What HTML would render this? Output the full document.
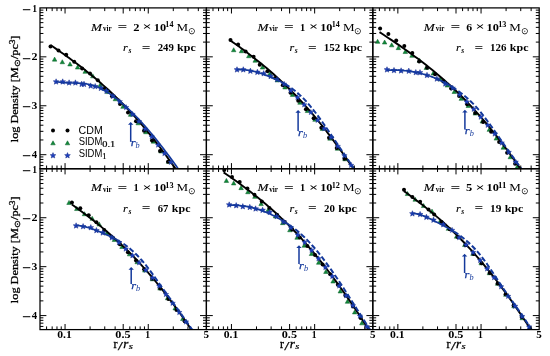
<!DOCTYPE html>
<html><head><meta charset="utf-8"><style>
html,body{margin:0;padding:0;background:#fff;}
svg{display:block;}
text{font-family:"Liberation Serif",serif;}
.b{font-size:10px;font-weight:bold;}
.bi{font-size:10px;font-style:italic;font-weight:bold;}
.sb{font-size:8px;font-weight:bold;}
.sn{font-size:8px;}
.so{font-size:9px;}
.n{font-size:10px;}
.mi{font-size:10px;font-style:italic;stroke:#000;stroke-width:0.12px;}
.tm{font-size:10px;font-weight:bold;fill:#222;stroke:#222;stroke-width:0.35px;}
.sbi{font-size:8px;font-weight:bold;font-style:italic;}
.tl{font-size:10px;font-weight:bold;}
.xr{font-size:12px;stroke:#000;stroke-width:0.3px;}
.xsl{font-size:13.5px;stroke:#000;stroke-width:0.25px;}
.xi{font-size:12px;font-style:italic;stroke:#000;stroke-width:0.3px;}
.xs{font-size:8.5px;font-style:italic;stroke:#000;stroke-width:0.2px;}
.yl{font-size:10.4px;stroke:#000;stroke-width:0.3px;}
.ys{font-size:7.5px;}
.lg{font-family:"Liberation Sans",sans-serif;font-size:10.2px;}
.lgs{font-family:"Liberation Serif",serif;font-size:7.5px;stroke:#000;stroke-width:0.2px;}
.rb{font-size:10px;font-style:italic;fill:#14399c;stroke:#14399c;stroke-width:0.25px;}
.rbs{font-size:8px;font-style:italic;fill:#14399c;}
</style></head><body>
<svg width="550" height="356" viewBox="0 0 550 356">
<rect width="550" height="356" fill="#fff"/>
<clipPath id="cp0"><rect x="40" y="7.9" width="166.4" height="160.8"/></clipPath>
<g clip-path="url(#cp0)">
<polygon points="54.6,57.09 56.85,61.14 52.35,61.14" fill="#108a3a" stroke="#0c5e2a" stroke-width="0.5"/>
<polygon points="62.3,59.69 64.55,63.74 60.05,63.74" fill="#108a3a" stroke="#0c5e2a" stroke-width="0.5"/>
<polygon points="70,61.89 72.25,65.94 67.75,65.94" fill="#108a3a" stroke="#0c5e2a" stroke-width="0.5"/>
<polygon points="77.6,64.99 79.85,69.04 75.35,69.04" fill="#108a3a" stroke="#0c5e2a" stroke-width="0.5"/>
<polygon points="85.2,69.29 87.45,73.34 82.95,73.34" fill="#108a3a" stroke="#0c5e2a" stroke-width="0.5"/>
<polygon points="92.8,73.79 95.05,77.84 90.55,77.84" fill="#108a3a" stroke="#0c5e2a" stroke-width="0.5"/>
<polygon points="100.2,82.77 102.45,86.82 97.95,86.82" fill="#108a3a" stroke="#0c5e2a" stroke-width="0.5"/>
<polygon points="107.8,89.54 110.05,93.59 105.55,93.59" fill="#108a3a" stroke="#0c5e2a" stroke-width="0.5"/>
<polygon points="115.4,96.7 117.65,100.75 113.15,100.75" fill="#108a3a" stroke="#0c5e2a" stroke-width="0.5"/>
<polygon points="123,104.27 125.25,108.32 120.75,108.32" fill="#108a3a" stroke="#0c5e2a" stroke-width="0.5"/>
<polygon points="130.6,112.28 132.85,116.33 128.35,116.33" fill="#108a3a" stroke="#0c5e2a" stroke-width="0.5"/>
<polygon points="138.2,120.75 140.45,124.8 135.95,124.8" fill="#108a3a" stroke="#0c5e2a" stroke-width="0.5"/>
<polygon points="145.8,129.69 148.05,133.74 143.55,133.74" fill="#108a3a" stroke="#0c5e2a" stroke-width="0.5"/>
<polygon points="153.4,139.09 155.65,143.14 151.15,143.14" fill="#108a3a" stroke="#0c5e2a" stroke-width="0.5"/>
<polygon points="161,148.95 163.25,153 158.75,153" fill="#108a3a" stroke="#0c5e2a" stroke-width="0.5"/>
<polygon points="168.6,159.25 170.85,163.3 166.35,163.3" fill="#108a3a" stroke="#0c5e2a" stroke-width="0.5"/>
<circle cx="50.5" cy="46.6" r="2.0" fill="#000"/>
<circle cx="58.5" cy="50.5" r="2.0" fill="#000"/>
<circle cx="66.2" cy="54.7" r="2.0" fill="#000"/>
<circle cx="74.2" cy="61.8" r="2.0" fill="#000"/>
<circle cx="82.1" cy="68.5" r="2.0" fill="#000"/>
<circle cx="90" cy="73.4" r="2.0" fill="#000"/>
<circle cx="97.8" cy="80.2" r="2.0" fill="#000"/>
<circle cx="104" cy="88.75" r="2.0" fill="#000"/>
<circle cx="112" cy="96.18" r="2.0" fill="#000"/>
<circle cx="120" cy="104.06" r="2.0" fill="#000"/>
<circle cx="128" cy="112.42" r="2.0" fill="#000"/>
<circle cx="136" cy="121.28" r="2.0" fill="#000"/>
<circle cx="144" cy="130.66" r="2.0" fill="#000"/>
<circle cx="152" cy="140.56" r="2.0" fill="#000"/>
<circle cx="160" cy="150.96" r="2.0" fill="#000"/>
<circle cx="168" cy="161.85" r="2.0" fill="#000"/>
<path d="M50.5 45.05 L53.11 46.81 L55.73 48.6 L58.34 50.4 L60.95 52.22 L63.57 54.06 L66.18 55.92 L68.8 57.81 L71.41 59.71 L74.02 61.64 L76.64 63.59 L79.25 65.57 L81.86 67.58 L84.48 69.62 L87.09 71.69 L89.7 73.79 L92.32 75.93 L94.93 78.1 L97.55 80.31 L100.16 82.56 L102.77 84.85 L105.39 87.18 L108 89.55 L110.61 91.97 L113.23 94.43 L115.84 96.95 L118.45 99.51 L121.07 102.12 L123.68 104.78 L126.3 107.49 L128.91 110.26 L131.52 113.08 L134.14 115.96 L136.75 118.88 L139.36 121.87 L141.98 124.91 L144.59 128.01 L147.2 131.16 L149.82 134.36 L152.43 137.63 L155.05 140.94 L157.66 144.31 L160.27 147.74 L162.89 151.21 L165.5 154.74 L168.11 158.32 L170.73 161.94 L173.34 165.62 L175.95 169.34 L178.57 173.1" stroke="#000" stroke-width="1.9" fill="none"/>
<polygon points="56.1,78.8 56.89,80.71 58.95,80.87 57.38,82.22 57.86,84.23 56.1,83.15 54.34,84.23 54.82,82.22 53.25,80.87 55.31,80.71" fill="#1c3fc0" stroke="#1a2f86" stroke-width="0.5"/>
<polygon points="62.7,78.8 63.49,80.71 65.55,80.87 63.98,82.22 64.46,84.23 62.7,83.15 60.94,84.23 61.42,82.22 59.85,80.87 61.91,80.71" fill="#1c3fc0" stroke="#1a2f86" stroke-width="0.5"/>
<polygon points="69.1,79.8 69.89,81.71 71.95,81.87 70.38,83.22 70.86,85.23 69.1,84.15 67.34,85.23 67.82,83.22 66.25,81.87 68.31,81.71" fill="#1c3fc0" stroke="#1a2f86" stroke-width="0.5"/>
<polygon points="75.4,79.8 76.19,81.71 78.25,81.87 76.68,83.22 77.16,85.23 75.4,84.15 73.64,85.23 74.12,83.22 72.55,81.87 74.61,81.71" fill="#1c3fc0" stroke="#1a2f86" stroke-width="0.5"/>
<polygon points="81.7,81.2 82.49,83.11 84.55,83.27 82.98,84.62 83.46,86.63 81.7,85.55 79.94,86.63 80.42,84.62 78.85,83.27 80.91,83.11" fill="#1c3fc0" stroke="#1a2f86" stroke-width="0.5"/>
<polygon points="84,81.2 84.79,83.11 86.85,83.27 85.28,84.62 85.76,86.63 84,85.55 82.24,86.63 82.72,84.62 81.15,83.27 83.21,83.11" fill="#1c3fc0" stroke="#1a2f86" stroke-width="0.5"/>
<polygon points="90.7,82.9 91.49,84.81 93.55,84.97 91.98,86.32 92.46,88.33 90.7,87.25 88.94,88.33 89.42,86.32 87.85,84.97 89.91,84.81" fill="#1c3fc0" stroke="#1a2f86" stroke-width="0.5"/>
<polygon points="95.2,83.5 95.99,85.41 98.05,85.57 96.48,86.92 96.96,88.93 95.2,87.85 93.44,88.93 93.92,86.92 92.35,85.57 94.41,85.41" fill="#1c3fc0" stroke="#1a2f86" stroke-width="0.5"/>
<polygon points="100.9,85.2 101.69,87.11 103.75,87.27 102.18,88.62 102.66,90.63 100.9,89.55 99.14,90.63 99.62,88.62 98.05,87.27 100.11,87.11" fill="#1c3fc0" stroke="#1a2f86" stroke-width="0.5"/>
<polygon points="106.5,88 107.29,89.91 109.35,90.07 107.78,91.42 108.26,93.43 106.5,92.35 104.74,93.43 105.22,91.42 103.65,90.07 105.71,89.91" fill="#1c3fc0" stroke="#1a2f86" stroke-width="0.5"/>
<polygon points="112.9,93.19 113.69,95.1 115.75,95.26 114.18,96.61 114.66,98.62 112.9,97.54 111.14,98.62 111.62,96.61 110.05,95.26 112.11,95.1" fill="#1c3fc0" stroke="#1a2f86" stroke-width="0.5"/>
<polygon points="119.7,98.71 120.47,100.55 122.46,100.71 120.94,102.01 121.4,103.95 119.7,102.91 118,103.95 118.46,102.01 116.94,100.71 118.93,100.55" fill="#1c3fc0" stroke="#1a2f86" stroke-width="0.4"/>
<polygon points="126.1,104.57 126.87,106.41 128.86,106.57 127.34,107.87 127.8,109.82 126.1,108.78 124.4,109.82 124.86,107.87 123.34,106.57 125.33,106.41" fill="#1c3fc0" stroke="#1a2f86" stroke-width="0.4"/>
<polygon points="132.5,111.41 133.27,113.25 135.26,113.41 133.74,114.71 134.2,116.66 132.5,115.62 130.8,116.66 131.26,114.71 129.74,113.41 131.73,113.25" fill="#1c3fc0" stroke="#1a2f86" stroke-width="0.4"/>
<polygon points="138.9,118.58 139.67,120.42 141.66,120.58 140.14,121.88 140.6,123.82 138.9,122.78 137.2,123.82 137.66,121.88 136.14,120.58 138.13,120.42" fill="#1c3fc0" stroke="#1a2f86" stroke-width="0.4"/>
<polygon points="145.3,126.08 146.07,127.92 148.06,128.08 146.54,129.38 147,131.32 145.3,130.28 143.6,131.32 144.06,129.38 142.54,128.08 144.53,127.92" fill="#1c3fc0" stroke="#1a2f86" stroke-width="0.4"/>
<polygon points="151.7,133.91 152.47,135.75 154.46,135.91 152.94,137.21 153.4,139.15 151.7,138.11 150,139.15 150.46,137.21 148.94,135.91 150.93,135.75" fill="#1c3fc0" stroke="#1a2f86" stroke-width="0.4"/>
<polygon points="158.1,142.07 158.87,143.91 160.86,144.07 159.34,145.37 159.8,147.31 158.1,146.27 156.4,147.31 156.86,145.37 155.34,144.07 157.33,143.91" fill="#1c3fc0" stroke="#1a2f86" stroke-width="0.4"/>
<polygon points="164.5,150.54 165.27,152.39 167.26,152.55 165.74,153.85 166.2,155.79 164.5,154.75 162.8,155.79 163.26,153.85 161.74,152.55 163.73,152.39" fill="#1c3fc0" stroke="#1a2f86" stroke-width="0.4"/>
<polygon points="170.9,159.33 171.67,161.17 173.66,161.33 172.14,162.63 172.6,164.57 170.9,163.53 169.2,164.57 169.66,162.63 168.14,161.33 170.13,161.17" fill="#1c3fc0" stroke="#1a2f86" stroke-width="0.4"/>
<polygon points="177.3,168.39 178.07,170.24 180.06,170.4 178.54,171.7 179,173.64 177.3,172.6 175.6,173.64 176.06,171.7 174.54,170.4 176.53,170.24" fill="#1c3fc0" stroke="#1a2f86" stroke-width="0.4"/>
<path d="M56.1 81.58 L57.92 81.92 L59.74 82.2 L61.56 82.42 L63.37 82.59 L65.19 82.72 L67.01 82.81 L68.83 82.88 L70.65 82.94 L72.47 82.98 L74.28 83.03 L76.1 83.08 L77.92 83.15 L79.74 83.24 L81.56 83.37 L83.38 83.54 L85.19 83.75 L87.01 84.03 L88.83 84.37 L90.65 84.78 L92.47 85.28 L94.29 85.86 L96.1 86.51 L97.92 87.25 L99.74 88.06 L101.56 88.94 L103.38 89.89 L105.2 90.91 L107.01 91.99 L108.83 93.14 L110.65 94.35 L112.47 95.62 L114.29 96.95 L116.11 98.33 L117.92 99.76 L119.74 101.25 L121.56 102.78 L123.38 104.36 L125.2 105.99 L127.02 107.65 L128.84 109.35 L130.65 111.1 L132.47 112.88 L134.29 114.7 L136.11 116.56 L137.93 118.45 L139.75 120.38 L141.56 122.35 L143.38 124.36 L145.2 126.4 L147.02 128.48 L148.84 130.59 L150.66 132.73 L152.47 134.91 L154.29 137.12 L156.11 139.36 L157.93 141.63 L159.75 143.94 L161.57 146.27 L163.38 148.63 L165.2 151.02 L167.02 153.43 L168.84 155.87 L170.66 158.34 L172.48 160.83 L174.29 163.34 L176.11 165.87 L177.93 168.43 L179.75 171 L181.57 173.6" stroke="#14399c" stroke-width="1.7" fill="none"/>
</g>
<path d="M130.7 141.8V124" stroke="#14399c" stroke-width="1.5" fill="none"/>
<polygon points="130.7,122 133.4,124.8 128,124.8" fill="#14399c"/>
<text x="130.69" y="146.4" class="rb" fill="#14399c" textLength="4.84" lengthAdjust="spacingAndGlyphs">r</text>
<text x="135.64" y="148.4" class="rbs" fill="#14399c" textLength="4.11" lengthAdjust="spacingAndGlyphs">b</text>
<clipPath id="cp1"><rect x="206.4" y="7.9" width="166.4" height="160.8"/></clipPath>
<g clip-path="url(#cp1)">
<polygon points="233.7,47.69 235.95,51.74 231.45,51.74" fill="#108a3a" stroke="#0c5e2a" stroke-width="0.5"/>
<polygon points="241.5,48.69 243.75,52.74 239.25,52.74" fill="#108a3a" stroke="#0c5e2a" stroke-width="0.5"/>
<polygon points="248.8,53.69 251.05,57.74 246.55,57.74" fill="#108a3a" stroke="#0c5e2a" stroke-width="0.5"/>
<polygon points="255.2,58.19 257.45,62.24 252.95,62.24" fill="#108a3a" stroke="#0c5e2a" stroke-width="0.5"/>
<polygon points="262.5,65 264.75,69.05 260.25,69.05" fill="#108a3a" stroke="#0c5e2a" stroke-width="0.5"/>
<polygon points="270,71.2 272.25,75.25 267.75,75.25" fill="#108a3a" stroke="#0c5e2a" stroke-width="0.5"/>
<polygon points="277.5,77.85 279.75,81.9 275.25,81.9" fill="#108a3a" stroke="#0c5e2a" stroke-width="0.5"/>
<polygon points="285,84.89 287.25,88.94 282.75,88.94" fill="#108a3a" stroke="#0c5e2a" stroke-width="0.5"/>
<polygon points="292.5,92.33 294.75,96.38 290.25,96.38" fill="#108a3a" stroke="#0c5e2a" stroke-width="0.5"/>
<polygon points="300,100.19 302.25,104.24 297.75,104.24" fill="#108a3a" stroke="#0c5e2a" stroke-width="0.5"/>
<polygon points="307.5,108.49 309.75,112.54 305.25,112.54" fill="#108a3a" stroke="#0c5e2a" stroke-width="0.5"/>
<polygon points="315,117.25 317.25,121.3 312.75,121.3" fill="#108a3a" stroke="#0c5e2a" stroke-width="0.5"/>
<polygon points="322.5,126.46 324.75,130.51 320.25,130.51" fill="#108a3a" stroke="#0c5e2a" stroke-width="0.5"/>
<polygon points="330,136.13 332.25,140.18 327.75,140.18" fill="#108a3a" stroke="#0c5e2a" stroke-width="0.5"/>
<polygon points="337.5,146.22 339.75,150.27 335.25,150.27" fill="#108a3a" stroke="#0c5e2a" stroke-width="0.5"/>
<polygon points="345,156.72 347.25,160.77 342.75,160.77" fill="#108a3a" stroke="#0c5e2a" stroke-width="0.5"/>
<polygon points="352.5,167.59 354.75,171.64 350.25,171.64" fill="#108a3a" stroke="#0c5e2a" stroke-width="0.5"/>
<circle cx="230.5" cy="40" r="2.0" fill="#000"/>
<circle cx="238.1" cy="44.6" r="2.0" fill="#000"/>
<circle cx="245.6" cy="51.5" r="2.0" fill="#000"/>
<circle cx="253.6" cy="56.8" r="2.0" fill="#000"/>
<circle cx="259.7" cy="64.7" r="2.0" fill="#000"/>
<circle cx="267.4" cy="71.16" r="2.0" fill="#000"/>
<circle cx="275.1" cy="77.95" r="2.0" fill="#000"/>
<circle cx="282.8" cy="85.13" r="2.0" fill="#000"/>
<circle cx="290.5" cy="92.73" r="2.0" fill="#000"/>
<circle cx="298.2" cy="100.77" r="2.0" fill="#000"/>
<circle cx="305.9" cy="109.27" r="2.0" fill="#000"/>
<circle cx="313.6" cy="118.26" r="2.0" fill="#000"/>
<circle cx="321.3" cy="127.73" r="2.0" fill="#000"/>
<circle cx="329" cy="137.66" r="2.0" fill="#000"/>
<circle cx="336.7" cy="148.06" r="2.0" fill="#000"/>
<circle cx="344.4" cy="158.87" r="2.0" fill="#000"/>
<circle cx="352.1" cy="170.08" r="2.0" fill="#000"/>
<path d="M230.6 40.61 L233.17 42.42 L235.74 44.24 L238.31 46.08 L240.88 47.95 L243.45 49.84 L246.01 51.75 L248.58 53.69 L251.15 55.65 L253.72 57.65 L256.29 59.67 L258.86 61.72 L261.43 63.81 L264 65.93 L266.57 68.08 L269.14 70.28 L271.71 72.51 L274.28 74.77 L276.84 77.09 L279.41 79.44 L281.98 81.84 L284.55 84.28 L287.12 86.77 L289.69 89.3 L292.26 91.89 L294.83 94.52 L297.4 97.21 L299.97 99.94 L302.54 102.73 L305.1 105.58 L307.67 108.47 L310.24 111.42 L312.81 114.42 L315.38 117.48 L317.95 120.58 L320.52 123.75 L323.09 126.96 L325.66 130.23 L328.23 133.55 L330.8 136.92 L333.36 140.34 L335.93 143.82 L338.5 147.33 L341.07 150.9 L343.64 154.51 L346.21 158.17 L348.78 161.87 L351.35 165.62 L353.92 169.4 L356.49 173.23" stroke="#000" stroke-width="1.9" fill="none"/>
<polygon points="237,66.7 237.79,68.61 239.85,68.77 238.28,70.12 238.76,72.13 237,71.05 235.24,72.13 235.72,70.12 234.15,68.77 236.21,68.61" fill="#1c3fc0" stroke="#1a2f86" stroke-width="0.5"/>
<polygon points="243.3,66.7 244.09,68.61 246.15,68.77 244.58,70.12 245.06,72.13 243.3,71.05 241.54,72.13 242.02,70.12 240.45,68.77 242.51,68.61" fill="#1c3fc0" stroke="#1a2f86" stroke-width="0.5"/>
<polygon points="250.4,68.1 251.19,70.01 253.25,70.17 251.68,71.52 252.16,73.53 250.4,72.45 248.64,73.53 249.12,71.52 247.55,70.17 249.61,70.01" fill="#1c3fc0" stroke="#1a2f86" stroke-width="0.5"/>
<polygon points="257.4,69.2 258.19,71.11 260.25,71.27 258.68,72.62 259.16,74.63 257.4,73.55 255.64,74.63 256.12,72.62 254.55,71.27 256.61,71.11" fill="#1c3fc0" stroke="#1a2f86" stroke-width="0.5"/>
<polygon points="263.7,70.6 264.49,72.51 266.55,72.67 264.98,74.02 265.46,76.03 263.7,74.95 261.94,76.03 262.42,74.02 260.85,72.67 262.91,72.51" fill="#1c3fc0" stroke="#1a2f86" stroke-width="0.5"/>
<polygon points="270.7,73.4 271.49,75.31 273.55,75.47 271.98,76.82 272.46,78.83 270.7,77.75 268.94,78.83 269.42,76.82 267.85,75.47 269.91,75.31" fill="#1c3fc0" stroke="#1a2f86" stroke-width="0.5"/>
<polygon points="277,76.5 277.79,78.41 279.85,78.57 278.28,79.92 278.76,81.93 277,80.85 275.24,81.93 275.72,79.92 274.15,78.57 276.21,78.41" fill="#1c3fc0" stroke="#1a2f86" stroke-width="0.5"/>
<polygon points="284.1,81.16 284.87,83.01 286.86,83.17 285.34,84.47 285.8,86.41 284.1,85.37 282.4,86.41 282.86,84.47 281.34,83.17 283.33,83.01" fill="#1c3fc0" stroke="#1a2f86" stroke-width="0.4"/>
<polygon points="290.8,87.71 291.57,89.56 293.56,89.72 292.04,91.02 292.5,92.96 290.8,91.92 289.1,92.96 289.56,91.02 288.04,89.72 290.03,89.56" fill="#1c3fc0" stroke="#1a2f86" stroke-width="0.4"/>
<polygon points="297.5,94.59 298.27,96.44 300.26,96.6 298.74,97.9 299.2,99.84 297.5,98.8 295.8,99.84 296.26,97.9 294.74,96.6 296.73,96.44" fill="#1c3fc0" stroke="#1a2f86" stroke-width="0.4"/>
<polygon points="304.2,101.83 304.97,103.67 306.96,103.83 305.44,105.13 305.9,107.07 304.2,106.03 302.5,107.07 302.96,105.13 301.44,103.83 303.43,103.67" fill="#1c3fc0" stroke="#1a2f86" stroke-width="0.4"/>
<polygon points="310.9,109.42 311.67,111.26 313.66,111.42 312.14,112.72 312.6,114.66 310.9,113.62 309.2,114.66 309.66,112.72 308.14,111.42 310.13,111.26" fill="#1c3fc0" stroke="#1a2f86" stroke-width="0.4"/>
<polygon points="317.6,117.37 318.37,119.22 320.36,119.38 318.84,120.67 319.3,122.62 317.6,121.58 315.9,122.62 316.36,120.67 314.84,119.38 316.83,119.22" fill="#1c3fc0" stroke="#1a2f86" stroke-width="0.4"/>
<polygon points="324.3,125.69 325.07,127.53 327.06,127.69 325.54,128.99 326,130.94 324.3,129.89 322.6,130.94 323.06,128.99 321.54,127.69 323.53,127.53" fill="#1c3fc0" stroke="#1a2f86" stroke-width="0.4"/>
<polygon points="331,134.36 331.77,136.21 333.76,136.37 332.24,137.67 332.7,139.61 331,138.57 329.3,139.61 329.76,137.67 328.24,136.37 330.23,136.21" fill="#1c3fc0" stroke="#1a2f86" stroke-width="0.4"/>
<polygon points="337.7,143.38 338.47,145.23 340.46,145.38 338.94,146.68 339.4,148.63 337.7,147.59 336,148.63 336.46,146.68 334.94,145.38 336.93,145.23" fill="#1c3fc0" stroke="#1a2f86" stroke-width="0.4"/>
<polygon points="344.4,152.72 345.17,154.57 347.16,154.73 345.64,156.03 346.1,157.97 344.4,156.93 342.7,157.97 343.16,156.03 341.64,154.73 343.63,154.57" fill="#1c3fc0" stroke="#1a2f86" stroke-width="0.4"/>
<polygon points="351.1,162.37 351.87,164.21 353.86,164.37 352.34,165.67 352.8,167.61 351.1,166.57 349.4,167.61 349.86,165.67 348.34,164.37 350.33,164.21" fill="#1c3fc0" stroke="#1a2f86" stroke-width="0.4"/>
<path d="M237 69.65 L238.23 69.59 L239.46 69.57 L240.69 69.58 L241.92 69.62 L243.15 69.69 L244.38 69.79 L245.62 69.92 L246.85 70.07 L248.08 70.24 L249.31 70.45 L250.54 70.67 L251.77 70.92 L253 71.19 L254.23 71.49 L255.46 71.8 L256.69 72.13 L257.92 72.49 L259.15 72.86 L260.38 73.25 L261.62 73.65 L262.85 74.07 L264.08 74.51 L265.31 74.96 L266.54 75.42 L267.77 75.9 L269 76.39 L270.23 76.89 L271.46 77.4 L272.69 77.92 L273.92 78.45 L275.15 79 L276.38 79.56 L277.62 80.13 L278.85 80.73 L280.08 81.34 L281.31 81.98 L282.54 82.64 L283.77 83.32 L285 84.02" stroke="#14399c" stroke-width="1.7" fill="none"/>
<path d="M285 84.02 L286.91 85.17 L288.82 86.38 L290.73 87.67 L292.64 89.03 L294.55 90.48 L296.46 92.02 L298.37 93.65 L300.28 95.38 L302.19 97.21 L304.1 99.14 L306.01 101.19 L307.92 103.33 L309.83 105.56 L311.74 107.88 L313.65 110.28 L315.56 112.76 L317.47 115.3 L319.38 117.9 L321.29 120.55 L323.2 123.25 L325.11 125.99 L327.02 128.77 L328.93 131.57 L330.84 134.39 L332.75 137.22 L334.66 140.06 L336.57 142.91 L338.48 145.75 L340.39 148.59 L342.3 151.42 L344.21 154.23 L346.12 157.02 L348.03 159.78 L349.94 162.51 L351.85 165.2 L353.76 167.85 L355.67 170.46 L357.58 173.01 L359.49 175.5" stroke="#14399c" stroke-width="2.0" fill="none" stroke-dasharray="5.2 2.4"/>
</g>
<path d="M298.1 131V112" stroke="#14399c" stroke-width="1.5" fill="none"/>
<polygon points="298.1,110 300.8,112.8 295.4,112.8" fill="#14399c"/>
<text x="298.09" y="135.6" class="rb" fill="#14399c" textLength="4.84" lengthAdjust="spacingAndGlyphs">r</text>
<text x="303.04" y="137.6" class="rbs" fill="#14399c" textLength="4.11" lengthAdjust="spacingAndGlyphs">b</text>
<clipPath id="cp2"><rect x="372.8" y="7.9" width="166.4" height="160.8"/></clipPath>
<g clip-path="url(#cp2)">
<polygon points="377.6,39.29 379.85,43.34 375.35,43.34" fill="#108a3a" stroke="#0c5e2a" stroke-width="0.5"/>
<polygon points="384.6,39.99 386.85,44.04 382.35,44.04" fill="#108a3a" stroke="#0c5e2a" stroke-width="0.5"/>
<polygon points="391.7,42.79 393.95,46.84 389.45,46.84" fill="#108a3a" stroke="#0c5e2a" stroke-width="0.5"/>
<polygon points="398.4,45.59 400.65,49.64 396.15,49.64" fill="#108a3a" stroke="#0c5e2a" stroke-width="0.5"/>
<polygon points="405.3,49.49 407.55,53.54 403.05,53.54" fill="#108a3a" stroke="#0c5e2a" stroke-width="0.5"/>
<polygon points="412,53.29 414.25,57.34 409.75,57.34" fill="#108a3a" stroke="#0c5e2a" stroke-width="0.5"/>
<polygon points="419.5,58.19 421.75,62.24 417.25,62.24" fill="#108a3a" stroke="#0c5e2a" stroke-width="0.5"/>
<polygon points="426.3,65.38 428.55,69.43 424.05,69.43" fill="#108a3a" stroke="#0c5e2a" stroke-width="0.5"/>
<polygon points="433.3,70.97 435.55,75.02 431.05,75.02" fill="#108a3a" stroke="#0c5e2a" stroke-width="0.5"/>
<polygon points="440.3,76.85 442.55,80.9 438.05,80.9" fill="#108a3a" stroke="#0c5e2a" stroke-width="0.5"/>
<polygon points="447.3,83.01 449.55,87.06 445.05,87.06" fill="#108a3a" stroke="#0c5e2a" stroke-width="0.5"/>
<polygon points="454.3,89.48 456.55,93.53 452.05,93.53" fill="#108a3a" stroke="#0c5e2a" stroke-width="0.5"/>
<polygon points="461.3,96.3 463.55,100.35 459.05,100.35" fill="#108a3a" stroke="#0c5e2a" stroke-width="0.5"/>
<polygon points="468.3,103.47 470.55,107.52 466.05,107.52" fill="#108a3a" stroke="#0c5e2a" stroke-width="0.5"/>
<polygon points="475.3,111.02 477.55,115.07 473.05,115.07" fill="#108a3a" stroke="#0c5e2a" stroke-width="0.5"/>
<polygon points="482.3,118.97 484.55,123.02 480.05,123.02" fill="#108a3a" stroke="#0c5e2a" stroke-width="0.5"/>
<polygon points="489.3,127.32 491.55,131.37 487.05,131.37" fill="#108a3a" stroke="#0c5e2a" stroke-width="0.5"/>
<polygon points="496.3,136.06 498.55,140.11 494.05,140.11" fill="#108a3a" stroke="#0c5e2a" stroke-width="0.5"/>
<polygon points="503.3,145.18 505.55,149.23 501.05,149.23" fill="#108a3a" stroke="#0c5e2a" stroke-width="0.5"/>
<polygon points="510.3,154.68 512.55,158.73 508.05,158.73" fill="#108a3a" stroke="#0c5e2a" stroke-width="0.5"/>
<polygon points="517.3,164.53 519.55,168.58 515.05,168.58" fill="#108a3a" stroke="#0c5e2a" stroke-width="0.5"/>
<circle cx="380.1" cy="28.4" r="2.0" fill="#000"/>
<circle cx="388.4" cy="34" r="2.0" fill="#000"/>
<circle cx="396.2" cy="40.6" r="2.0" fill="#000"/>
<circle cx="404.3" cy="46" r="2.0" fill="#000"/>
<circle cx="412.3" cy="53" r="2.0" fill="#000"/>
<circle cx="419.1" cy="61.56" r="2.0" fill="#000"/>
<circle cx="427.1" cy="67.78" r="2.0" fill="#000"/>
<circle cx="435.1" cy="74.3" r="2.0" fill="#000"/>
<circle cx="443.1" cy="81.17" r="2.0" fill="#000"/>
<circle cx="451.1" cy="88.42" r="2.0" fill="#000"/>
<circle cx="459.1" cy="96.11" r="2.0" fill="#000"/>
<circle cx="467.1" cy="104.27" r="2.0" fill="#000"/>
<circle cx="475.1" cy="112.92" r="2.0" fill="#000"/>
<circle cx="483.1" cy="122.09" r="2.0" fill="#000"/>
<circle cx="491.1" cy="131.78" r="2.0" fill="#000"/>
<circle cx="499.1" cy="141.98" r="2.0" fill="#000"/>
<circle cx="507.1" cy="152.67" r="2.0" fill="#000"/>
<circle cx="515.1" cy="163.83" r="2.0" fill="#000"/>
<path d="M379.5 32.14 L382.44 34.05 L385.37 35.98 L388.31 37.93 L391.25 39.89 L394.19 41.88 L397.12 43.88 L400.06 45.9 L403 47.95 L405.93 50.02 L408.87 52.12 L411.81 54.25 L414.75 56.4 L417.68 58.59 L420.62 60.81 L423.56 63.06 L426.49 65.35 L429.43 67.68 L432.37 70.06 L435.31 72.47 L438.24 74.94 L441.18 77.45 L444.12 80.01 L447.05 82.62 L449.99 85.29 L452.93 88.01 L455.87 90.8 L458.8 93.64 L461.74 96.55 L464.68 99.52 L467.62 102.55 L470.55 105.66 L473.49 108.83 L476.43 112.06 L479.36 115.37 L482.3 118.75 L485.24 122.2 L488.18 125.72 L491.11 129.31 L494.05 132.96 L496.99 136.69 L499.92 140.48 L502.86 144.35 L505.8 148.27 L508.74 152.26 L511.67 156.32 L514.61 160.43 L517.55 164.61 L520.48 168.84 L523.42 173.12" stroke="#000" stroke-width="1.9" fill="none"/>
<polygon points="387,66.7 387.79,68.61 389.85,68.77 388.28,70.12 388.76,72.13 387,71.05 385.24,72.13 385.72,70.12 384.15,68.77 386.21,68.61" fill="#1c3fc0" stroke="#1a2f86" stroke-width="0.5"/>
<polygon points="394,67.4 394.79,69.31 396.85,69.47 395.28,70.82 395.76,72.83 394,71.75 392.24,72.83 392.72,70.82 391.15,69.47 393.21,69.31" fill="#1c3fc0" stroke="#1a2f86" stroke-width="0.5"/>
<polygon points="401.1,67.8 401.89,69.71 403.95,69.87 402.38,71.22 402.86,73.23 401.1,72.15 399.34,73.23 399.82,71.22 398.25,69.87 400.31,69.71" fill="#1c3fc0" stroke="#1a2f86" stroke-width="0.5"/>
<polygon points="408.8,68.1 409.59,70.01 411.65,70.17 410.08,71.52 410.56,73.53 408.8,72.45 407.04,73.53 407.52,71.52 405.95,70.17 408.01,70.01" fill="#1c3fc0" stroke="#1a2f86" stroke-width="0.5"/>
<polygon points="415.8,69.5 416.59,71.41 418.65,71.57 417.08,72.92 417.56,74.93 415.8,73.85 414.04,74.93 414.52,72.92 412.95,71.57 415.01,71.41" fill="#1c3fc0" stroke="#1a2f86" stroke-width="0.5"/>
<polygon points="420,69.6 420.79,71.51 422.85,71.67 421.28,73.02 421.76,75.03 420,73.95 418.24,75.03 418.72,73.02 417.15,71.67 419.21,71.51" fill="#1c3fc0" stroke="#1a2f86" stroke-width="0.5"/>
<polygon points="427,72.3 427.79,74.21 429.85,74.37 428.28,75.72 428.76,77.73 427,76.65 425.24,77.73 425.72,75.72 424.15,74.37 426.21,74.21" fill="#1c3fc0" stroke="#1a2f86" stroke-width="0.5"/>
<polygon points="436.9,75.9 437.69,77.81 439.75,77.97 438.18,79.32 438.66,81.33 436.9,80.25 435.14,81.33 435.62,79.32 434.05,77.97 436.11,77.81" fill="#1c3fc0" stroke="#1a2f86" stroke-width="0.5"/>
<polygon points="445.3,80.8 446.09,82.71 448.15,82.87 446.58,84.22 447.06,86.23 445.3,85.15 443.54,86.23 444.02,84.22 442.45,82.87 444.51,82.71" fill="#1c3fc0" stroke="#1a2f86" stroke-width="0.5"/>
<polygon points="452.7,85.12 453.47,86.97 455.46,87.13 453.94,88.43 454.4,90.37 452.7,89.33 451,90.37 451.46,88.43 449.94,87.13 451.93,86.97" fill="#1c3fc0" stroke="#1a2f86" stroke-width="0.4"/>
<polygon points="459.7,91.83 460.47,93.67 462.46,93.83 460.94,95.13 461.4,97.07 459.7,96.03 458,97.07 458.46,95.13 456.94,93.83 458.93,93.67" fill="#1c3fc0" stroke="#1a2f86" stroke-width="0.4"/>
<polygon points="466.7,98.89 467.47,100.73 469.46,100.89 467.94,102.19 468.4,104.13 466.7,103.09 465,104.13 465.46,102.19 463.94,100.89 465.93,100.73" fill="#1c3fc0" stroke="#1a2f86" stroke-width="0.4"/>
<polygon points="473.7,106.32 474.47,108.16 476.46,108.32 474.94,109.62 475.4,111.56 473.7,110.52 472,111.56 472.46,109.62 470.94,108.32 472.93,108.16" fill="#1c3fc0" stroke="#1a2f86" stroke-width="0.4"/>
<polygon points="480.7,114.14 481.47,115.99 483.46,116.15 481.94,117.44 482.4,119.39 480.7,118.35 479,119.39 479.46,117.44 477.94,116.15 479.93,115.99" fill="#1c3fc0" stroke="#1a2f86" stroke-width="0.4"/>
<polygon points="487.7,122.36 488.47,124.21 490.46,124.36 488.94,125.66 489.4,127.61 487.7,126.57 486,127.61 486.46,125.66 484.94,124.36 486.93,124.21" fill="#1c3fc0" stroke="#1a2f86" stroke-width="0.4"/>
<polygon points="494.7,130.98 495.47,132.82 497.46,132.98 495.94,134.28 496.4,136.22 494.7,135.18 493,136.22 493.46,134.28 491.94,132.98 493.93,132.82" fill="#1c3fc0" stroke="#1a2f86" stroke-width="0.4"/>
<polygon points="501.7,139.99 502.47,141.83 504.46,141.99 502.94,143.29 503.4,145.23 501.7,144.19 500,145.23 500.46,143.29 498.94,141.99 500.93,141.83" fill="#1c3fc0" stroke="#1a2f86" stroke-width="0.4"/>
<polygon points="508.7,149.37 509.47,151.21 511.46,151.37 509.94,152.67 510.4,154.62 508.7,153.57 507,154.62 507.46,152.67 505.94,151.37 507.93,151.21" fill="#1c3fc0" stroke="#1a2f86" stroke-width="0.4"/>
<polygon points="515.7,159.11 516.47,160.95 518.46,161.11 516.94,162.41 517.4,164.36 515.7,163.31 514,164.36 514.46,162.41 512.94,161.11 514.93,160.95" fill="#1c3fc0" stroke="#1a2f86" stroke-width="0.4"/>
<path d="M387 70.12 L388.67 70.07 L390.33 70.05 L392 70.04 L393.67 70.06 L395.33 70.09 L397 70.15 L398.67 70.22 L400.33 70.32 L402 70.44 L403.67 70.58 L405.33 70.74 L407 70.93 L408.67 71.14 L410.33 71.38 L412 71.64 L413.67 71.93 L415.33 72.24 L417 72.58 L418.67 72.94 L420.33 73.34 L422 73.76 L423.67 74.21 L425.33 74.68 L427 75.19 L428.67 75.73 L430.33 76.3 L432 76.9 L433.67 77.54 L435.33 78.2 L437 78.9 L438.67 79.63 L440.33 80.4 L442 81.2 L443.67 82.04 L445.33 82.92 L447 83.83 L448.67 84.78 L450.33 85.76 L452 86.79" stroke="#14399c" stroke-width="1.7" fill="none"/>
<path d="M452 86.79 L453.91 88.01 L455.82 89.28 L457.72 90.61 L459.63 91.99 L461.54 93.43 L463.45 94.93 L465.36 96.5 L467.27 98.14 L469.17 99.87 L471.08 101.68 L472.99 103.59 L474.9 105.59 L476.81 107.7 L478.72 109.91 L480.62 112.21 L482.53 114.59 L484.44 117.04 L486.35 119.56 L488.26 122.13 L490.16 124.75 L492.07 127.41 L493.98 130.1 L495.89 132.82 L497.8 135.55 L499.71 138.28 L501.61 141.03 L503.52 143.77 L505.43 146.49 L507.34 149.21 L509.25 151.89 L511.16 154.56 L513.06 157.2 L514.97 159.84 L516.88 162.49 L518.79 165.16 L520.7 167.87 L522.6 170.63 L524.51 173.44 L526.42 176.33" stroke="#14399c" stroke-width="2.0" fill="none" stroke-dasharray="5.2 2.4"/>
</g>
<path d="M464.9 129.6V111.7" stroke="#14399c" stroke-width="1.5" fill="none"/>
<polygon points="464.9,109.7 467.6,112.5 462.2,112.5" fill="#14399c"/>
<text x="464.89" y="134.2" class="rb" fill="#14399c" textLength="4.84" lengthAdjust="spacingAndGlyphs">r</text>
<text x="469.84" y="136.2" class="rbs" fill="#14399c" textLength="4.11" lengthAdjust="spacingAndGlyphs">b</text>
<clipPath id="cp3"><rect x="40" y="168.8" width="166.4" height="160.8"/></clipPath>
<g clip-path="url(#cp3)">
<polygon points="69,200.39 71.25,204.44 66.75,204.44" fill="#108a3a" stroke="#0c5e2a" stroke-width="0.5"/>
<polygon points="76.8,206.49 79.05,210.54 74.55,210.54" fill="#108a3a" stroke="#0c5e2a" stroke-width="0.5"/>
<polygon points="84.5,211.69 86.75,215.74 82.25,215.74" fill="#108a3a" stroke="#0c5e2a" stroke-width="0.5"/>
<polygon points="92.2,216.29 94.45,220.34 89.95,220.34" fill="#108a3a" stroke="#0c5e2a" stroke-width="0.5"/>
<polygon points="99.2,221.89 101.45,225.94 96.95,225.94" fill="#108a3a" stroke="#0c5e2a" stroke-width="0.5"/>
<polygon points="106.8,230.78 109.05,234.83 104.55,234.83" fill="#108a3a" stroke="#0c5e2a" stroke-width="0.5"/>
<polygon points="114.4,237.38 116.65,241.43 112.15,241.43" fill="#108a3a" stroke="#0c5e2a" stroke-width="0.5"/>
<polygon points="122,244.39 124.25,248.44 119.75,248.44" fill="#108a3a" stroke="#0c5e2a" stroke-width="0.5"/>
<polygon points="129.6,251.82 131.85,255.87 127.35,255.87" fill="#108a3a" stroke="#0c5e2a" stroke-width="0.5"/>
<polygon points="137.2,259.68 139.45,263.73 134.95,263.73" fill="#108a3a" stroke="#0c5e2a" stroke-width="0.5"/>
<polygon points="144.8,267.99 147.05,272.04 142.55,272.04" fill="#108a3a" stroke="#0c5e2a" stroke-width="0.5"/>
<polygon points="152.4,276.76 154.65,280.81 150.15,280.81" fill="#108a3a" stroke="#0c5e2a" stroke-width="0.5"/>
<polygon points="160,286.01 162.25,290.06 157.75,290.06" fill="#108a3a" stroke="#0c5e2a" stroke-width="0.5"/>
<polygon points="167.6,295.71 169.85,299.76 165.35,299.76" fill="#108a3a" stroke="#0c5e2a" stroke-width="0.5"/>
<polygon points="175.2,305.87 177.45,309.92 172.95,309.92" fill="#108a3a" stroke="#0c5e2a" stroke-width="0.5"/>
<polygon points="182.8,316.44 185.05,320.49 180.55,320.49" fill="#108a3a" stroke="#0c5e2a" stroke-width="0.5"/>
<polygon points="190.4,327.41 192.65,331.46 188.15,331.46" fill="#108a3a" stroke="#0c5e2a" stroke-width="0.5"/>
<circle cx="71.9" cy="202.6" r="2.0" fill="#000"/>
<circle cx="80.3" cy="208.3" r="2.0" fill="#000"/>
<circle cx="88.7" cy="215.3" r="2.0" fill="#000"/>
<circle cx="96.4" cy="222.3" r="2.0" fill="#000"/>
<circle cx="104.2" cy="230" r="2.0" fill="#000"/>
<circle cx="111.7" cy="236.89" r="2.0" fill="#000"/>
<circle cx="119.8" cy="244.29" r="2.0" fill="#000"/>
<circle cx="127.9" cy="252.13" r="2.0" fill="#000"/>
<circle cx="136" cy="260.45" r="2.0" fill="#000"/>
<circle cx="144.1" cy="269.28" r="2.0" fill="#000"/>
<circle cx="152.2" cy="278.65" r="2.0" fill="#000"/>
<circle cx="160.3" cy="288.54" r="2.0" fill="#000"/>
<circle cx="168.4" cy="298.96" r="2.0" fill="#000"/>
<circle cx="176.5" cy="309.88" r="2.0" fill="#000"/>
<circle cx="184.6" cy="321.28" r="2.0" fill="#000"/>
<path d="M71.9 204.57 L74.4 206.34 L76.9 208.14 L79.4 209.95 L81.9 211.78 L84.4 213.64 L86.9 215.52 L89.4 217.43 L91.9 219.36 L94.4 221.33 L96.9 223.32 L99.4 225.34 L101.9 227.39 L104.4 229.47 L106.9 231.59 L109.4 233.75 L111.9 235.94 L114.4 238.17 L116.9 240.44 L119.4 242.75 L121.9 245.1 L124.4 247.5 L126.9 249.94 L129.39 252.42 L131.89 254.95 L134.39 257.53 L136.89 260.16 L139.39 262.84 L141.89 265.56 L144.39 268.34 L146.89 271.17 L149.39 274.04 L151.89 276.97 L154.39 279.95 L156.89 282.98 L159.39 286.06 L161.89 289.19 L164.39 292.37 L166.89 295.6 L169.39 298.88 L171.89 302.21 L174.39 305.58 L176.89 309 L179.39 312.46 L181.89 315.97 L184.39 319.52 L186.89 323.11 L189.39 326.74 L191.89 330.41 L194.39 334.12" stroke="#000" stroke-width="1.9" fill="none"/>
<polygon points="76.1,222.8 76.89,224.71 78.95,224.87 77.38,226.22 77.86,228.23 76.1,227.15 74.34,228.23 74.82,226.22 73.25,224.87 75.31,224.71" fill="#1c3fc0" stroke="#1a2f86" stroke-width="0.5"/>
<polygon points="83.1,223.5 83.89,225.41 85.95,225.57 84.38,226.92 84.86,228.93 83.1,227.85 81.34,228.93 81.82,226.92 80.25,225.57 82.31,225.41" fill="#1c3fc0" stroke="#1a2f86" stroke-width="0.5"/>
<polygon points="90.8,224.6 91.59,226.51 93.65,226.67 92.08,228.02 92.56,230.03 90.8,228.95 89.04,230.03 89.52,228.02 87.95,226.67 90.01,226.51" fill="#1c3fc0" stroke="#1a2f86" stroke-width="0.5"/>
<polygon points="96.4,227.5 97.19,229.41 99.25,229.57 97.68,230.92 98.16,232.93 96.4,231.85 94.64,232.93 95.12,230.92 93.55,229.57 95.61,229.41" fill="#1c3fc0" stroke="#1a2f86" stroke-width="0.5"/>
<polygon points="102.8,229.8 103.59,231.71 105.65,231.87 104.08,233.22 104.56,235.23 102.8,234.15 101.04,235.23 101.52,233.22 99.95,231.87 102.01,231.71" fill="#1c3fc0" stroke="#1a2f86" stroke-width="0.5"/>
<polygon points="111.9,234.6 112.69,236.51 114.75,236.67 113.18,238.02 113.66,240.03 111.9,238.95 110.14,240.03 110.62,238.02 109.05,236.67 111.11,236.51" fill="#1c3fc0" stroke="#1a2f86" stroke-width="0.5"/>
<polygon points="119,239.71 119.77,241.55 121.76,241.71 120.24,243.01 120.7,244.95 119,243.91 117.3,244.95 117.76,243.01 116.24,241.71 118.23,241.55" fill="#1c3fc0" stroke="#1a2f86" stroke-width="0.4"/>
<polygon points="125.7,246.07 126.47,247.92 128.46,248.08 126.94,249.38 127.4,251.32 125.7,250.28 124,251.32 124.46,249.38 122.94,248.08 124.93,247.92" fill="#1c3fc0" stroke="#1a2f86" stroke-width="0.4"/>
<polygon points="132.4,252.76 133.17,254.61 135.16,254.77 133.64,256.07 134.1,258.01 132.4,256.97 130.7,258.01 131.16,256.07 129.64,254.77 131.63,254.61" fill="#1c3fc0" stroke="#1a2f86" stroke-width="0.4"/>
<polygon points="139.1,259.79 139.87,261.63 141.86,261.79 140.34,263.09 140.8,265.04 139.1,264 137.4,265.04 137.86,263.09 136.34,261.79 138.33,261.63" fill="#1c3fc0" stroke="#1a2f86" stroke-width="0.4"/>
<polygon points="145.8,267.17 146.57,269.02 148.56,269.18 147.04,270.48 147.5,272.42 145.8,271.38 144.1,272.42 144.56,270.48 143.04,269.18 145.03,269.02" fill="#1c3fc0" stroke="#1a2f86" stroke-width="0.4"/>
<polygon points="152.5,274.92 153.27,276.76 155.26,276.92 153.74,278.22 154.2,280.16 152.5,279.12 150.8,280.16 151.26,278.22 149.74,276.92 151.73,276.76" fill="#1c3fc0" stroke="#1a2f86" stroke-width="0.4"/>
<polygon points="159.2,283.03 159.97,284.87 161.96,285.03 160.44,286.33 160.9,288.27 159.2,287.23 157.5,288.27 157.96,286.33 156.44,285.03 158.43,284.87" fill="#1c3fc0" stroke="#1a2f86" stroke-width="0.4"/>
<polygon points="165.9,291.5 166.67,293.34 168.66,293.5 167.14,294.8 167.6,296.74 165.9,295.7 164.2,296.74 164.66,294.8 163.14,293.5 165.13,293.34" fill="#1c3fc0" stroke="#1a2f86" stroke-width="0.4"/>
<polygon points="172.6,300.32 173.37,302.16 175.36,302.32 173.84,303.62 174.3,305.57 172.6,304.52 170.9,305.57 171.36,303.62 169.84,302.32 171.83,302.16" fill="#1c3fc0" stroke="#1a2f86" stroke-width="0.4"/>
<polygon points="179.3,309.48 180.07,311.32 182.06,311.48 180.54,312.78 181,314.72 179.3,313.68 177.6,314.72 178.06,312.78 176.54,311.48 178.53,311.32" fill="#1c3fc0" stroke="#1a2f86" stroke-width="0.4"/>
<polygon points="186,318.95 186.77,320.79 188.76,320.95 187.24,322.25 187.7,324.2 186,323.16 184.3,324.2 184.76,322.25 183.24,320.95 185.23,320.79" fill="#1c3fc0" stroke="#1a2f86" stroke-width="0.4"/>
<polygon points="192.7,328.72 193.47,330.56 195.46,330.72 193.94,332.02 194.4,333.96 192.7,332.92 191,333.96 191.46,332.02 189.94,330.72 191.93,330.56" fill="#1c3fc0" stroke="#1a2f86" stroke-width="0.4"/>
<path d="M76.1 225.42 L77.15 225.49 L78.2 225.59 L79.25 225.71 L80.29 225.85 L81.34 226.02 L82.39 226.21 L83.44 226.42 L84.49 226.66 L85.54 226.91 L86.59 227.18 L87.64 227.47 L88.68 227.77 L89.73 228.1 L90.78 228.43 L91.83 228.78 L92.88 229.15 L93.93 229.52 L94.98 229.91 L96.03 230.31 L97.07 230.72 L98.12 231.13 L99.17 231.56 L100.22 231.99 L101.27 232.42 L102.32 232.86 L103.37 233.31 L104.42 233.76 L105.46 234.21 L106.51 234.67 L107.56 235.13 L108.61 235.61 L109.66 236.09 L110.71 236.59 L111.76 237.09 L112.81 237.61 L113.85 238.14 L114.9 238.68 L115.95 239.24 L117 239.82" stroke="#14399c" stroke-width="1.7" fill="none"/>
<path d="M117 239.82 L119.06 241 L121.12 242.25 L123.18 243.59 L125.25 245.01 L127.31 246.54 L129.37 248.16 L131.43 249.9 L133.49 251.75 L135.55 253.72 L137.61 255.8 L139.67 257.99 L141.74 260.28 L143.8 262.69 L145.86 265.2 L147.92 267.82 L149.98 270.55 L152.04 273.36 L154.1 276.23 L156.16 279.15 L158.23 282.1 L160.29 285.04 L162.35 287.96 L164.41 290.86 L166.47 293.73 L168.53 296.59 L170.59 299.44 L172.65 302.28 L174.72 305.12 L176.78 307.96 L178.84 310.82 L180.9 313.68 L182.96 316.56 L185.02 319.46 L187.08 322.39 L189.14 325.35 L191.21 328.34 L193.27 331.38 L195.33 334.45 L197.39 337.58" stroke="#14399c" stroke-width="2.0" fill="none" stroke-dasharray="5.2 2.4"/>
</g>
<path d="M131.2 284V269" stroke="#14399c" stroke-width="1.5" fill="none"/>
<polygon points="131.2,267 133.9,269.8 128.5,269.8" fill="#14399c"/>
<text x="131.19" y="288.6" class="rb" fill="#14399c" textLength="4.84" lengthAdjust="spacingAndGlyphs">r</text>
<text x="136.14" y="290.6" class="rbs" fill="#14399c" textLength="4.11" lengthAdjust="spacingAndGlyphs">b</text>
<clipPath id="cp4"><rect x="206.4" y="168.8" width="166.4" height="160.8"/></clipPath>
<g clip-path="url(#cp4)">
<polygon points="226.4,178.39 228.65,182.44 224.15,182.44" fill="#108a3a" stroke="#0c5e2a" stroke-width="0.5"/>
<polygon points="233.7,180.89 235.95,184.94 231.45,184.94" fill="#108a3a" stroke="#0c5e2a" stroke-width="0.5"/>
<polygon points="241.1,185.59 243.35,189.64 238.85,189.64" fill="#108a3a" stroke="#0c5e2a" stroke-width="0.5"/>
<polygon points="247.9,189.69 250.15,193.74 245.65,193.74" fill="#108a3a" stroke="#0c5e2a" stroke-width="0.5"/>
<polygon points="254.9,194.29 257.15,198.34 252.65,198.34" fill="#108a3a" stroke="#0c5e2a" stroke-width="0.5"/>
<polygon points="261.1,201.56 263.35,205.61 258.85,205.61" fill="#108a3a" stroke="#0c5e2a" stroke-width="0.5"/>
<polygon points="268.3,207.45 270.55,211.5 266.05,211.5" fill="#108a3a" stroke="#0c5e2a" stroke-width="0.5"/>
<polygon points="275.5,213.83 277.75,217.88 273.25,217.88" fill="#108a3a" stroke="#0c5e2a" stroke-width="0.5"/>
<polygon points="282.7,220.58 284.95,224.63 280.45,224.63" fill="#108a3a" stroke="#0c5e2a" stroke-width="0.5"/>
<polygon points="289.9,227.7 292.15,231.75 287.65,231.75" fill="#108a3a" stroke="#0c5e2a" stroke-width="0.5"/>
<polygon points="297.1,235.21 299.35,239.26 294.85,239.26" fill="#108a3a" stroke="#0c5e2a" stroke-width="0.5"/>
<polygon points="304.3,243.13 306.55,247.18 302.05,247.18" fill="#108a3a" stroke="#0c5e2a" stroke-width="0.5"/>
<polygon points="311.5,251.47 313.75,255.52 309.25,255.52" fill="#108a3a" stroke="#0c5e2a" stroke-width="0.5"/>
<polygon points="318.7,260.22 320.95,264.27 316.45,264.27" fill="#108a3a" stroke="#0c5e2a" stroke-width="0.5"/>
<polygon points="325.9,269.4 328.15,273.45 323.65,273.45" fill="#108a3a" stroke="#0c5e2a" stroke-width="0.5"/>
<polygon points="333.1,278.97 335.35,283.02 330.85,283.02" fill="#108a3a" stroke="#0c5e2a" stroke-width="0.5"/>
<polygon points="340.3,288.93 342.55,292.98 338.05,292.98" fill="#108a3a" stroke="#0c5e2a" stroke-width="0.5"/>
<polygon points="347.5,299.24 349.75,303.29 345.25,303.29" fill="#108a3a" stroke="#0c5e2a" stroke-width="0.5"/>
<polygon points="354.7,309.88 356.95,313.93 352.45,313.93" fill="#108a3a" stroke="#0c5e2a" stroke-width="0.5"/>
<polygon points="361.9,320.82 364.15,324.87 359.65,324.87" fill="#108a3a" stroke="#0c5e2a" stroke-width="0.5"/>
<circle cx="224.3" cy="170.1" r="2.0" fill="#000"/>
<circle cx="232" cy="177.1" r="2.0" fill="#000"/>
<circle cx="239.7" cy="182" r="2.0" fill="#000"/>
<circle cx="247.4" cy="188.4" r="2.0" fill="#000"/>
<circle cx="254.5" cy="194.7" r="2.0" fill="#000"/>
<circle cx="261.8" cy="201.51" r="2.0" fill="#000"/>
<circle cx="269.4" cy="207.97" r="2.0" fill="#000"/>
<circle cx="277" cy="214.77" r="2.0" fill="#000"/>
<circle cx="284.6" cy="221.95" r="2.0" fill="#000"/>
<circle cx="292.2" cy="229.55" r="2.0" fill="#000"/>
<circle cx="299.8" cy="237.58" r="2.0" fill="#000"/>
<circle cx="307.4" cy="246.07" r="2.0" fill="#000"/>
<circle cx="315" cy="255.03" r="2.0" fill="#000"/>
<circle cx="322.6" cy="264.46" r="2.0" fill="#000"/>
<circle cx="330.2" cy="274.35" r="2.0" fill="#000"/>
<circle cx="337.8" cy="284.67" r="2.0" fill="#000"/>
<circle cx="345.4" cy="295.4" r="2.0" fill="#000"/>
<circle cx="353" cy="306.51" r="2.0" fill="#000"/>
<circle cx="360.6" cy="317.96" r="2.0" fill="#000"/>
<circle cx="368.2" cy="329.71" r="2.0" fill="#000"/>
<path d="M223.6 172.35 L226.62 174.42 L229.65 176.53 L232.67 178.66 L235.69 180.81 L238.71 182.99 L241.74 185.21 L244.76 187.46 L247.78 189.74 L250.8 192.06 L253.83 194.42 L256.85 196.83 L259.87 199.27 L262.89 201.77 L265.92 204.31 L268.94 206.91 L271.96 209.55 L274.98 212.26 L278.01 215.02 L281.03 217.84 L284.05 220.73 L287.07 223.68 L290.1 226.7 L293.12 229.78 L296.14 232.94 L299.16 236.17 L302.19 239.47 L305.21 242.84 L308.23 246.28 L311.25 249.8 L314.28 253.4 L317.3 257.07 L320.32 260.81 L323.34 264.63 L326.37 268.51 L329.39 272.47 L332.41 276.5 L335.43 280.6 L338.46 284.76 L341.48 288.99 L344.5 293.28 L347.52 297.64 L350.55 302.05 L353.57 306.51 L356.59 311.03 L359.61 315.6 L362.64 320.22 L365.66 324.89 L368.68 329.6 L371.7 334.35" stroke="#000" stroke-width="1.9" fill="none"/>
<polygon points="229.2,201.8 229.99,203.71 232.05,203.87 230.48,205.22 230.96,207.23 229.2,206.15 227.44,207.23 227.92,205.22 226.35,203.87 228.41,203.71" fill="#1c3fc0" stroke="#1a2f86" stroke-width="0.5"/>
<polygon points="236.2,202.6 236.99,204.51 239.05,204.67 237.48,206.02 237.96,208.03 236.2,206.95 234.44,208.03 234.92,206.02 233.35,204.67 235.41,204.51" fill="#1c3fc0" stroke="#1a2f86" stroke-width="0.5"/>
<polygon points="242.8,203.6 243.59,205.51 245.65,205.67 244.08,207.02 244.56,209.03 242.8,207.95 241.04,209.03 241.52,207.02 239.95,205.67 242.01,205.51" fill="#1c3fc0" stroke="#1a2f86" stroke-width="0.5"/>
<polygon points="249.8,204.3 250.59,206.21 252.65,206.37 251.08,207.72 251.56,209.73 249.8,208.65 248.04,209.73 248.52,207.72 246.95,206.37 249.01,206.21" fill="#1c3fc0" stroke="#1a2f86" stroke-width="0.5"/>
<polygon points="255.6,205.8 256.39,207.71 258.45,207.87 256.88,209.22 257.36,211.23 255.6,210.15 253.84,211.23 254.32,209.22 252.75,207.87 254.81,207.71" fill="#1c3fc0" stroke="#1a2f86" stroke-width="0.5"/>
<polygon points="262.6,207.2 263.39,209.11 265.45,209.27 263.88,210.62 264.36,212.63 262.6,211.55 260.84,212.63 261.32,210.62 259.75,209.27 261.81,209.11" fill="#1c3fc0" stroke="#1a2f86" stroke-width="0.5"/>
<polygon points="269.7,209.3 270.49,211.21 272.55,211.37 270.98,212.72 271.46,214.73 269.7,213.65 267.94,214.73 268.42,212.72 266.85,211.37 268.91,211.21" fill="#1c3fc0" stroke="#1a2f86" stroke-width="0.5"/>
<polygon points="276.7,213.5 277.49,215.41 279.55,215.57 277.98,216.92 278.46,218.93 276.7,217.85 274.94,218.93 275.42,216.92 273.85,215.57 275.91,215.41" fill="#1c3fc0" stroke="#1a2f86" stroke-width="0.5"/>
<polygon points="283.6,218.79 284.39,220.7 286.45,220.86 284.88,222.21 285.36,224.22 283.6,223.14 281.84,224.22 282.32,222.21 280.75,220.86 282.81,220.7" fill="#1c3fc0" stroke="#1a2f86" stroke-width="0.5"/>
<polygon points="290.9,224.81 291.67,226.65 293.66,226.81 292.14,228.11 292.6,230.05 290.9,229.01 289.2,230.05 289.66,228.11 288.14,226.81 290.13,226.65" fill="#1c3fc0" stroke="#1a2f86" stroke-width="0.4"/>
<polygon points="297.8,231.97 298.57,233.82 300.56,233.98 299.04,235.28 299.5,237.22 297.8,236.18 296.1,237.22 296.56,235.28 295.04,233.98 297.03,233.82" fill="#1c3fc0" stroke="#1a2f86" stroke-width="0.4"/>
<polygon points="304.7,239.52 305.47,241.36 307.46,241.52 305.94,242.82 306.4,244.76 304.7,243.72 303,244.76 303.46,242.82 301.94,241.52 303.93,241.36" fill="#1c3fc0" stroke="#1a2f86" stroke-width="0.4"/>
<polygon points="311.6,247.44 312.37,249.29 314.36,249.45 312.84,250.74 313.3,252.69 311.6,251.65 309.9,252.69 310.36,250.74 308.84,249.45 310.83,249.29" fill="#1c3fc0" stroke="#1a2f86" stroke-width="0.4"/>
<polygon points="318.5,255.75 319.27,257.6 321.26,257.76 319.74,259.06 320.2,261 318.5,259.96 316.8,261 317.26,259.06 315.74,257.76 317.73,257.6" fill="#1c3fc0" stroke="#1a2f86" stroke-width="0.4"/>
<polygon points="325.4,264.45 326.17,266.29 328.16,266.45 326.64,267.75 327.1,269.69 325.4,268.65 323.7,269.69 324.16,267.75 322.64,266.45 324.63,266.29" fill="#1c3fc0" stroke="#1a2f86" stroke-width="0.4"/>
<polygon points="332.3,273.52 333.07,275.36 335.06,275.52 333.54,276.82 334,278.76 332.3,277.72 330.6,278.76 331.06,276.82 329.54,275.52 331.53,275.36" fill="#1c3fc0" stroke="#1a2f86" stroke-width="0.4"/>
<polygon points="339.2,282.94 339.97,284.79 341.96,284.95 340.44,286.25 340.9,288.19 339.2,287.15 337.5,288.19 337.96,286.25 336.44,284.95 338.43,284.79" fill="#1c3fc0" stroke="#1a2f86" stroke-width="0.4"/>
<polygon points="346.1,292.7 346.87,294.55 348.86,294.71 347.34,296.01 347.8,297.95 346.1,296.91 344.4,297.95 344.86,296.01 343.34,294.71 345.33,294.55" fill="#1c3fc0" stroke="#1a2f86" stroke-width="0.4"/>
<polygon points="353,302.77 353.77,304.62 355.76,304.78 354.24,306.08 354.7,308.02 353,306.98 351.3,308.02 351.76,306.08 350.24,304.78 352.23,304.62" fill="#1c3fc0" stroke="#1a2f86" stroke-width="0.4"/>
<polygon points="359.9,313.13 360.67,314.97 362.66,315.13 361.14,316.43 361.6,318.37 359.9,317.33 358.2,318.37 358.66,316.43 357.14,315.13 359.13,314.97" fill="#1c3fc0" stroke="#1a2f86" stroke-width="0.4"/>
<polygon points="366.8,323.74 367.57,325.58 369.56,325.74 368.04,327.04 368.5,328.98 366.8,327.94 365.1,328.98 365.56,327.04 364.04,325.74 366.03,325.58" fill="#1c3fc0" stroke="#1a2f86" stroke-width="0.4"/>
<path d="M229.2 205.11 L230.73 205.1 L232.27 205.11 L233.8 205.15 L235.33 205.22 L236.87 205.31 L238.4 205.43 L239.93 205.57 L241.47 205.75 L243 205.94 L244.53 206.17 L246.07 206.42 L247.6 206.7 L249.13 207.01 L250.67 207.35 L252.2 207.71 L253.73 208.1 L255.27 208.51 L256.8 208.96 L258.33 209.43 L259.87 209.93 L261.4 210.46 L262.93 211.02 L264.47 211.6 L266 212.22 L267.53 212.86 L269.07 213.53 L270.6 214.23 L272.13 214.95 L273.67 215.71 L275.2 216.49 L276.73 217.3 L278.27 218.13 L279.8 219 L281.33 219.89 L282.87 220.81 L284.4 221.76 L285.93 222.74 L287.47 223.74 L289 224.77" stroke="#14399c" stroke-width="1.7" fill="none"/>
<path d="M289 224.77 L291.2 226.3 L293.4 227.91 L295.59 229.58 L297.79 231.35 L299.99 233.2 L302.19 235.16 L304.38 237.21 L306.58 239.38 L308.78 241.65 L310.98 244.02 L313.17 246.49 L315.37 249.04 L317.57 251.69 L319.77 254.42 L321.96 257.23 L324.16 260.12 L326.36 263.07 L328.56 266.1 L330.75 269.18 L332.95 272.33 L335.15 275.53 L337.35 278.77 L339.54 282.07 L341.74 285.4 L343.94 288.76 L346.14 292.16 L348.33 295.58 L350.53 299.02 L352.73 302.48 L354.93 305.95 L357.12 309.43 L359.32 312.91 L361.52 316.38 L363.72 319.84 L365.91 323.3 L368.11 326.73 L370.31 330.14 L372.51 333.52 L374.7 336.87" stroke="#14399c" stroke-width="2.0" fill="none" stroke-dasharray="5.2 2.4"/>
</g>
<path d="M299 264V247.2" stroke="#14399c" stroke-width="1.5" fill="none"/>
<polygon points="299,245.2 301.7,248 296.3,248" fill="#14399c"/>
<text x="298.99" y="268.6" class="rb" fill="#14399c" textLength="4.84" lengthAdjust="spacingAndGlyphs">r</text>
<text x="303.94" y="270.6" class="rbs" fill="#14399c" textLength="4.11" lengthAdjust="spacingAndGlyphs">b</text>
<clipPath id="cp5"><rect x="372.8" y="168.8" width="166.4" height="160.8"/></clipPath>
<g clip-path="url(#cp5)">
<polygon points="407.5,191.49 409.75,195.54 405.25,195.54" fill="#108a3a" stroke="#0c5e2a" stroke-width="0.5"/>
<polygon points="415.2,197.19 417.45,201.24 412.95,201.24" fill="#108a3a" stroke="#0c5e2a" stroke-width="0.5"/>
<polygon points="423.6,203.49 425.85,207.54 421.35,207.54" fill="#108a3a" stroke="#0c5e2a" stroke-width="0.5"/>
<polygon points="432,209.09 434.25,213.14 429.75,213.14" fill="#108a3a" stroke="#0c5e2a" stroke-width="0.5"/>
<polygon points="440.2,218.91 442.45,222.96 437.95,222.96" fill="#108a3a" stroke="#0c5e2a" stroke-width="0.5"/>
<polygon points="448.4,226.26 450.65,230.31 446.15,230.31" fill="#108a3a" stroke="#0c5e2a" stroke-width="0.5"/>
<polygon points="456.6,234.11 458.85,238.16 454.35,238.16" fill="#108a3a" stroke="#0c5e2a" stroke-width="0.5"/>
<polygon points="464.8,242.46 467.05,246.51 462.55,246.51" fill="#108a3a" stroke="#0c5e2a" stroke-width="0.5"/>
<polygon points="473,251.34 475.25,255.39 470.75,255.39" fill="#108a3a" stroke="#0c5e2a" stroke-width="0.5"/>
<polygon points="481.2,260.75 483.45,264.8 478.95,264.8" fill="#108a3a" stroke="#0c5e2a" stroke-width="0.5"/>
<polygon points="489.4,270.71 491.65,274.76 487.15,274.76" fill="#108a3a" stroke="#0c5e2a" stroke-width="0.5"/>
<polygon points="497.6,281.21 499.85,285.26 495.35,285.26" fill="#108a3a" stroke="#0c5e2a" stroke-width="0.5"/>
<polygon points="505.8,292.23 508.05,296.28 503.55,296.28" fill="#108a3a" stroke="#0c5e2a" stroke-width="0.5"/>
<polygon points="514,303.73 516.25,307.78 511.75,307.78" fill="#108a3a" stroke="#0c5e2a" stroke-width="0.5"/>
<polygon points="522.2,315.67 524.45,319.72 519.95,319.72" fill="#108a3a" stroke="#0c5e2a" stroke-width="0.5"/>
<polygon points="530.4,328.02 532.65,332.07 528.15,332.07" fill="#108a3a" stroke="#0c5e2a" stroke-width="0.5"/>
<circle cx="404" cy="189.8" r="2.0" fill="#000"/>
<circle cx="412.4" cy="196.9" r="2.0" fill="#000"/>
<circle cx="420.1" cy="201.8" r="2.0" fill="#000"/>
<circle cx="428.5" cy="209.5" r="2.0" fill="#000"/>
<circle cx="434.2" cy="214.4" r="2.0" fill="#000"/>
<circle cx="441.6" cy="222.01" r="2.0" fill="#000"/>
<circle cx="449.6" cy="229.34" r="2.0" fill="#000"/>
<circle cx="457.6" cy="237.11" r="2.0" fill="#000"/>
<circle cx="465.6" cy="245.35" r="2.0" fill="#000"/>
<circle cx="473.6" cy="254.09" r="2.0" fill="#000"/>
<circle cx="481.6" cy="263.35" r="2.0" fill="#000"/>
<circle cx="489.6" cy="273.12" r="2.0" fill="#000"/>
<circle cx="497.6" cy="283.41" r="2.0" fill="#000"/>
<circle cx="505.6" cy="294.19" r="2.0" fill="#000"/>
<circle cx="513.6" cy="305.43" r="2.0" fill="#000"/>
<circle cx="521.6" cy="317.08" r="2.0" fill="#000"/>
<circle cx="529.6" cy="329.12" r="2.0" fill="#000"/>
<path d="M404 191.14 L406.65 193.05 L409.3 194.98 L411.96 196.93 L414.61 198.91 L417.26 200.92 L419.91 202.95 L422.57 205.02 L425.22 207.12 L427.87 209.25 L430.52 211.41 L433.18 213.62 L435.83 215.86 L438.48 218.14 L441.13 220.46 L443.79 222.83 L446.44 225.24 L449.09 227.7 L451.74 230.2 L454.4 232.76 L457.05 235.36 L459.7 238.02 L462.35 240.73 L465.01 243.49 L467.66 246.3 L470.31 249.18 L472.96 252.1 L475.62 255.09 L478.27 258.13 L480.92 261.23 L483.57 264.39 L486.22 267.6 L488.88 270.87 L491.53 274.2 L494.18 277.58 L496.83 281.02 L499.49 284.51 L502.14 288.06 L504.79 291.66 L507.44 295.31 L510.1 299.01 L512.75 302.75 L515.4 306.55 L518.05 310.39 L520.71 314.28 L523.36 318.21 L526.01 322.17 L528.66 326.18 L531.32 330.23 L533.97 334.31" stroke="#000" stroke-width="1.9" fill="none"/>
<polygon points="412.4,210.7 413.19,212.61 415.25,212.77 413.68,214.12 414.16,216.13 412.4,215.05 410.64,216.13 411.12,214.12 409.55,212.77 411.61,212.61" fill="#1c3fc0" stroke="#1a2f86" stroke-width="0.5"/>
<polygon points="420.1,211.4 420.89,213.31 422.95,213.47 421.38,214.82 421.86,216.83 420.1,215.75 418.34,216.83 418.82,214.82 417.25,213.47 419.31,213.31" fill="#1c3fc0" stroke="#1a2f86" stroke-width="0.5"/>
<polygon points="426.4,214.2 427.19,216.11 429.25,216.27 427.68,217.62 428.16,219.63 426.4,218.55 424.64,219.63 425.12,217.62 423.55,216.27 425.61,216.11" fill="#1c3fc0" stroke="#1a2f86" stroke-width="0.5"/>
<polygon points="433.5,217 434.29,218.91 436.35,219.07 434.78,220.42 435.26,222.43 433.5,221.35 431.74,222.43 432.22,220.42 430.65,219.07 432.71,218.91" fill="#1c3fc0" stroke="#1a2f86" stroke-width="0.5"/>
<polygon points="443.3,221.6 444.09,223.51 446.15,223.67 444.58,225.02 445.06,227.03 443.3,225.95 441.54,227.03 442.02,225.02 440.45,223.67 442.51,223.51" fill="#1c3fc0" stroke="#1a2f86" stroke-width="0.5"/>
<polygon points="452.1,227.3 452.87,229.14 454.86,229.3 453.34,230.6 453.8,232.55 452.1,231.5 450.4,232.55 450.86,230.6 449.34,229.3 451.33,229.14" fill="#1c3fc0" stroke="#1a2f86" stroke-width="0.4"/>
<polygon points="459.1,234.71 459.87,236.55 461.86,236.71 460.34,238.01 460.8,239.95 459.1,238.91 457.4,239.95 457.86,238.01 456.34,236.71 458.33,236.55" fill="#1c3fc0" stroke="#1a2f86" stroke-width="0.4"/>
<polygon points="466.1,241.92 466.87,243.76 468.86,243.92 467.34,245.22 467.8,247.17 466.1,246.12 464.4,247.17 464.86,245.22 463.34,243.92 465.33,243.76" fill="#1c3fc0" stroke="#1a2f86" stroke-width="0.4"/>
<polygon points="473.1,249.51 473.87,251.36 475.86,251.52 474.34,252.82 474.8,254.76 473.1,253.72 471.4,254.76 471.86,252.82 470.34,251.52 472.33,251.36" fill="#1c3fc0" stroke="#1a2f86" stroke-width="0.4"/>
<polygon points="480.1,257.5 480.87,259.34 482.86,259.5 481.34,260.8 481.8,262.74 480.1,261.7 478.4,262.74 478.86,260.8 477.34,259.5 479.33,259.34" fill="#1c3fc0" stroke="#1a2f86" stroke-width="0.4"/>
<polygon points="487.1,265.88 487.87,267.73 489.86,267.89 488.34,269.19 488.8,271.13 487.1,270.09 485.4,271.13 485.86,269.19 484.34,267.89 486.33,267.73" fill="#1c3fc0" stroke="#1a2f86" stroke-width="0.4"/>
<polygon points="494.1,274.66 494.87,276.51 496.86,276.67 495.34,277.97 495.8,279.91 494.1,278.87 492.4,279.91 492.86,277.97 491.34,276.67 493.33,276.51" fill="#1c3fc0" stroke="#1a2f86" stroke-width="0.4"/>
<polygon points="501.1,283.83 501.87,285.67 503.86,285.83 502.34,287.13 502.8,289.07 501.1,288.03 499.4,289.07 499.86,287.13 498.34,285.83 500.33,285.67" fill="#1c3fc0" stroke="#1a2f86" stroke-width="0.4"/>
<polygon points="508.1,293.36 508.87,295.21 510.86,295.37 509.34,296.66 509.8,298.61 508.1,297.57 506.4,298.61 506.86,296.66 505.34,295.37 507.33,295.21" fill="#1c3fc0" stroke="#1a2f86" stroke-width="0.4"/>
<polygon points="515.1,303.24 515.87,305.09 517.86,305.25 516.34,306.55 516.8,308.49 515.1,307.45 513.4,308.49 513.86,306.55 512.34,305.25 514.33,305.09" fill="#1c3fc0" stroke="#1a2f86" stroke-width="0.4"/>
<polygon points="522.1,313.44 522.87,315.29 524.86,315.45 523.34,316.75 523.8,318.69 522.1,317.65 520.4,318.69 520.86,316.75 519.34,315.45 521.33,315.29" fill="#1c3fc0" stroke="#1a2f86" stroke-width="0.4"/>
<polygon points="529.1,323.94 529.87,325.78 531.86,325.94 530.34,327.24 530.8,329.19 529.1,328.14 527.4,329.19 527.86,327.24 526.34,325.94 528.33,325.78" fill="#1c3fc0" stroke="#1a2f86" stroke-width="0.4"/>
<path d="M412.4 213.47 L413.47 213.49 L414.53 213.56 L415.6 213.68 L416.67 213.84 L417.73 214.05 L418.8 214.31 L419.87 214.6 L420.93 214.93 L422 215.29 L423.07 215.68 L424.13 216.09 L425.2 216.54 L426.27 217 L427.33 217.49 L428.4 217.99 L429.47 218.5 L430.53 219.03 L431.6 219.56 L432.67 220.11 L433.73 220.65 L434.8 221.19 L435.87 221.73 L436.93 222.28 L438 222.82 L439.07 223.36 L440.13 223.9 L441.2 224.44 L442.27 224.99 L443.33 225.55 L444.4 226.11 L445.47 226.67 L446.53 227.25 L447.6 227.83 L448.67 228.42 L449.73 229.02 L450.8 229.64 L451.87 230.27 L452.93 230.91 L454 231.57" stroke="#14399c" stroke-width="1.7" fill="none"/>
<path d="M454 231.57 L456.13 232.93 L458.25 234.36 L460.38 235.87 L462.51 237.47 L464.64 239.16 L466.76 240.96 L468.89 242.86 L471.02 244.89 L473.15 247.03 L475.27 249.29 L477.4 251.67 L479.53 254.18 L481.66 256.81 L483.78 259.58 L485.91 262.47 L488.04 265.49 L490.17 268.62 L492.29 271.83 L494.42 275.09 L496.55 278.36 L498.68 281.6 L500.8 284.79 L502.93 287.92 L505.06 291 L507.18 294.04 L509.31 297.06 L511.44 300.06 L513.57 303.06 L515.69 306.06 L517.82 309.07 L519.95 312.12 L522.08 315.2 L524.2 318.34 L526.33 321.53 L528.46 324.79 L530.59 328.14 L532.71 331.58 L534.84 335.12 L536.97 338.78" stroke="#14399c" stroke-width="2.0" fill="none" stroke-dasharray="5.2 2.4"/>
</g>
<path d="M464.6 273V255.8" stroke="#14399c" stroke-width="1.5" fill="none"/>
<polygon points="464.6,253.8 467.3,256.6 461.9,256.6" fill="#14399c"/>
<text x="464.59" y="277.6" class="rb" fill="#14399c" textLength="4.84" lengthAdjust="spacingAndGlyphs">r</text>
<text x="469.54" y="279.6" class="rbs" fill="#14399c" textLength="4.11" lengthAdjust="spacingAndGlyphs">b</text>
<path d="M46.59 168.7v-3.2M46.59 7.9v3.2M52.16 168.7v-3.2M52.16 7.9v3.2M56.98 168.7v-3.2M56.98 7.9v3.2M61.24 168.7v-3.2M61.24 7.9v3.2M65.05 168.7v-5.6M65.05 7.9v5.6M90.09 168.7v-3.2M90.09 7.9v3.2M104.74 168.7v-3.2M104.74 7.9v3.2M115.14 168.7v-3.2M115.14 7.9v3.2M123.2 168.7v-5.6M123.2 7.9v5.6M129.79 168.7v-3.2M129.79 7.9v3.2M135.36 168.7v-3.2M135.36 7.9v3.2M140.18 168.7v-3.2M140.18 7.9v3.2M144.44 168.7v-3.2M144.44 7.9v3.2M148.25 168.7v-5.6M148.25 7.9v5.6M173.29 168.7v-3.2M173.29 7.9v3.2M187.94 168.7v-3.2M187.94 7.9v3.2M198.34 168.7v-3.2M198.34 7.9v3.2M40 165.55h3.4M206.4 165.55h-3.4M40 162.27h3.4M206.4 162.27h-3.4M40 159.43h3.4M206.4 159.43h-3.4M40 156.93h3.4M206.4 156.93h-3.4M40 154.69h6.4M206.4 154.69h-6.4M40 139.96h3.4M206.4 139.96h-3.4M40 131.34h3.4M206.4 131.34h-3.4M40 125.23h3.4M206.4 125.23h-3.4M40 120.49h3.4M206.4 120.49h-3.4M40 116.62h3.4M206.4 116.62h-3.4M40 113.34h3.4M206.4 113.34h-3.4M40 110.5h3.4M206.4 110.5h-3.4M40 108h3.4M206.4 108h-3.4M40 105.76h6.4M206.4 105.76h-6.4M40 91.03h3.4M206.4 91.03h-3.4M40 82.41h3.4M206.4 82.41h-3.4M40 76.3h3.4M206.4 76.3h-3.4M40 71.56h3.4M206.4 71.56h-3.4M40 67.69h3.4M206.4 67.69h-3.4M40 64.41h3.4M206.4 64.41h-3.4M40 61.57h3.4M206.4 61.57h-3.4M40 59.07h3.4M206.4 59.07h-3.4M40 56.83h6.4M206.4 56.83h-6.4M40 42.1h3.4M206.4 42.1h-3.4M40 33.48h3.4M206.4 33.48h-3.4M40 27.37h3.4M206.4 27.37h-3.4M40 22.63h3.4M206.4 22.63h-3.4M40 18.76h3.4M206.4 18.76h-3.4M40 15.48h3.4M206.4 15.48h-3.4M40 12.64h3.4M206.4 12.64h-3.4M40 10.14h3.4M206.4 10.14h-3.4" stroke="#000" stroke-width="1" fill="none"/>
<rect x="40" y="7.9" width="166.4" height="160.8" stroke="#000" stroke-width="1.25" fill="none"/>
<text x="91.03" y="30.5" class="mi" textLength="10.97" lengthAdjust="spacingAndGlyphs">M</text>
<text x="102.9" y="30.8" class="sb" textLength="8.64" lengthAdjust="spacingAndGlyphs">vir</text>
<text x="117.64" y="30.3" class="b" textLength="9.85" lengthAdjust="spacingAndGlyphs">=</text>
<text x="133.33" y="30.5" class="b" textLength="6.24" lengthAdjust="spacingAndGlyphs">2</text>
<text x="142.6" y="30.2" class="b" textLength="9.12" lengthAdjust="spacingAndGlyphs">×</text>
<text x="153.78" y="30.5" class="b" textLength="12.28" lengthAdjust="spacingAndGlyphs">10</text>
<text x="165.37" y="27.1" class="sb" textLength="8.06" lengthAdjust="spacingAndGlyphs">14</text>
<text x="176.57" y="30.5" class="n" textLength="11.59" lengthAdjust="spacingAndGlyphs">M</text>
<text x="187.85" y="33.5" class="so" textLength="8" lengthAdjust="spacingAndGlyphs">⊙</text>
<text x="123.14" y="50.7" class="mi" textLength="4.74" lengthAdjust="spacingAndGlyphs">r</text>
<text x="128.4" y="52.7" class="sbi" textLength="2.93" lengthAdjust="spacingAndGlyphs">s</text>
<text x="141.73" y="50.5" class="b" textLength="8.76" lengthAdjust="spacingAndGlyphs">=</text>
<text x="157.7" y="50.7" class="b" textLength="16.09" lengthAdjust="spacingAndGlyphs">249</text>
<text x="177.09" y="50.7" class="b" textLength="18.62" lengthAdjust="spacingAndGlyphs">kpc</text>
<path d="M212.99 168.7v-3.2M212.99 7.9v3.2M218.56 168.7v-3.2M218.56 7.9v3.2M223.38 168.7v-3.2M223.38 7.9v3.2M227.64 168.7v-3.2M227.64 7.9v3.2M231.45 168.7v-5.6M231.45 7.9v5.6M256.49 168.7v-3.2M256.49 7.9v3.2M271.14 168.7v-3.2M271.14 7.9v3.2M281.54 168.7v-3.2M281.54 7.9v3.2M289.6 168.7v-5.6M289.6 7.9v5.6M296.19 168.7v-3.2M296.19 7.9v3.2M301.76 168.7v-3.2M301.76 7.9v3.2M306.58 168.7v-3.2M306.58 7.9v3.2M310.84 168.7v-3.2M310.84 7.9v3.2M314.65 168.7v-5.6M314.65 7.9v5.6M339.69 168.7v-3.2M339.69 7.9v3.2M354.34 168.7v-3.2M354.34 7.9v3.2M364.74 168.7v-3.2M364.74 7.9v3.2M206.4 165.55h3.4M372.8 165.55h-3.4M206.4 162.27h3.4M372.8 162.27h-3.4M206.4 159.43h3.4M372.8 159.43h-3.4M206.4 156.93h3.4M372.8 156.93h-3.4M206.4 154.69h6.4M372.8 154.69h-6.4M206.4 139.96h3.4M372.8 139.96h-3.4M206.4 131.34h3.4M372.8 131.34h-3.4M206.4 125.23h3.4M372.8 125.23h-3.4M206.4 120.49h3.4M372.8 120.49h-3.4M206.4 116.62h3.4M372.8 116.62h-3.4M206.4 113.34h3.4M372.8 113.34h-3.4M206.4 110.5h3.4M372.8 110.5h-3.4M206.4 108h3.4M372.8 108h-3.4M206.4 105.76h6.4M372.8 105.76h-6.4M206.4 91.03h3.4M372.8 91.03h-3.4M206.4 82.41h3.4M372.8 82.41h-3.4M206.4 76.3h3.4M372.8 76.3h-3.4M206.4 71.56h3.4M372.8 71.56h-3.4M206.4 67.69h3.4M372.8 67.69h-3.4M206.4 64.41h3.4M372.8 64.41h-3.4M206.4 61.57h3.4M372.8 61.57h-3.4M206.4 59.07h3.4M372.8 59.07h-3.4M206.4 56.83h6.4M372.8 56.83h-6.4M206.4 42.1h3.4M372.8 42.1h-3.4M206.4 33.48h3.4M372.8 33.48h-3.4M206.4 27.37h3.4M372.8 27.37h-3.4M206.4 22.63h3.4M372.8 22.63h-3.4M206.4 18.76h3.4M372.8 18.76h-3.4M206.4 15.48h3.4M372.8 15.48h-3.4M206.4 12.64h3.4M372.8 12.64h-3.4M206.4 10.14h3.4M372.8 10.14h-3.4" stroke="#000" stroke-width="1" fill="none"/>
<rect x="206.4" y="7.9" width="166.4" height="160.8" stroke="#000" stroke-width="1.25" fill="none"/>
<text x="257.43" y="30.5" class="mi" textLength="10.97" lengthAdjust="spacingAndGlyphs">M</text>
<text x="269.3" y="30.8" class="sb" textLength="8.64" lengthAdjust="spacingAndGlyphs">vir</text>
<text x="284.04" y="30.3" class="b" textLength="9.85" lengthAdjust="spacingAndGlyphs">=</text>
<text x="300.02" y="30.5" class="b" textLength="5.2" lengthAdjust="spacingAndGlyphs">1</text>
<text x="309" y="30.2" class="b" textLength="9.12" lengthAdjust="spacingAndGlyphs">×</text>
<text x="320.18" y="30.5" class="b" textLength="12.28" lengthAdjust="spacingAndGlyphs">10</text>
<text x="331.77" y="27.1" class="sb" textLength="8.06" lengthAdjust="spacingAndGlyphs">14</text>
<text x="342.97" y="30.5" class="n" textLength="11.59" lengthAdjust="spacingAndGlyphs">M</text>
<text x="354.25" y="33.5" class="so" textLength="8" lengthAdjust="spacingAndGlyphs">⊙</text>
<text x="289.54" y="50.7" class="mi" textLength="4.74" lengthAdjust="spacingAndGlyphs">r</text>
<text x="294.8" y="52.7" class="sbi" textLength="2.93" lengthAdjust="spacingAndGlyphs">s</text>
<text x="308.13" y="50.5" class="b" textLength="8.76" lengthAdjust="spacingAndGlyphs">=</text>
<text x="323.67" y="50.7" class="b" textLength="16.53" lengthAdjust="spacingAndGlyphs">152</text>
<text x="343.49" y="50.7" class="b" textLength="18.62" lengthAdjust="spacingAndGlyphs">kpc</text>
<path d="M379.39 168.7v-3.2M379.39 7.9v3.2M384.96 168.7v-3.2M384.96 7.9v3.2M389.78 168.7v-3.2M389.78 7.9v3.2M394.04 168.7v-3.2M394.04 7.9v3.2M397.85 168.7v-5.6M397.85 7.9v5.6M422.89 168.7v-3.2M422.89 7.9v3.2M437.54 168.7v-3.2M437.54 7.9v3.2M447.94 168.7v-3.2M447.94 7.9v3.2M456 168.7v-5.6M456 7.9v5.6M462.59 168.7v-3.2M462.59 7.9v3.2M468.16 168.7v-3.2M468.16 7.9v3.2M472.98 168.7v-3.2M472.98 7.9v3.2M477.24 168.7v-3.2M477.24 7.9v3.2M481.05 168.7v-5.6M481.05 7.9v5.6M506.09 168.7v-3.2M506.09 7.9v3.2M520.74 168.7v-3.2M520.74 7.9v3.2M531.14 168.7v-3.2M531.14 7.9v3.2M372.8 165.55h3.4M539.2 165.55h-3.4M372.8 162.27h3.4M539.2 162.27h-3.4M372.8 159.43h3.4M539.2 159.43h-3.4M372.8 156.93h3.4M539.2 156.93h-3.4M372.8 154.69h6.4M539.2 154.69h-6.4M372.8 139.96h3.4M539.2 139.96h-3.4M372.8 131.34h3.4M539.2 131.34h-3.4M372.8 125.23h3.4M539.2 125.23h-3.4M372.8 120.49h3.4M539.2 120.49h-3.4M372.8 116.62h3.4M539.2 116.62h-3.4M372.8 113.34h3.4M539.2 113.34h-3.4M372.8 110.5h3.4M539.2 110.5h-3.4M372.8 108h3.4M539.2 108h-3.4M372.8 105.76h6.4M539.2 105.76h-6.4M372.8 91.03h3.4M539.2 91.03h-3.4M372.8 82.41h3.4M539.2 82.41h-3.4M372.8 76.3h3.4M539.2 76.3h-3.4M372.8 71.56h3.4M539.2 71.56h-3.4M372.8 67.69h3.4M539.2 67.69h-3.4M372.8 64.41h3.4M539.2 64.41h-3.4M372.8 61.57h3.4M539.2 61.57h-3.4M372.8 59.07h3.4M539.2 59.07h-3.4M372.8 56.83h6.4M539.2 56.83h-6.4M372.8 42.1h3.4M539.2 42.1h-3.4M372.8 33.48h3.4M539.2 33.48h-3.4M372.8 27.37h3.4M539.2 27.37h-3.4M372.8 22.63h3.4M539.2 22.63h-3.4M372.8 18.76h3.4M539.2 18.76h-3.4M372.8 15.48h3.4M539.2 15.48h-3.4M372.8 12.64h3.4M539.2 12.64h-3.4M372.8 10.14h3.4M539.2 10.14h-3.4" stroke="#000" stroke-width="1" fill="none"/>
<rect x="372.8" y="7.9" width="166.4" height="160.8" stroke="#000" stroke-width="1.25" fill="none"/>
<text x="423.83" y="30.5" class="mi" textLength="10.97" lengthAdjust="spacingAndGlyphs">M</text>
<text x="435.7" y="30.8" class="sb" textLength="8.64" lengthAdjust="spacingAndGlyphs">vir</text>
<text x="450.44" y="30.3" class="b" textLength="9.85" lengthAdjust="spacingAndGlyphs">=</text>
<text x="466.31" y="30.5" class="b" textLength="5.89" lengthAdjust="spacingAndGlyphs">6</text>
<text x="475.4" y="30.2" class="b" textLength="9.12" lengthAdjust="spacingAndGlyphs">×</text>
<text x="486.58" y="30.5" class="b" textLength="12.28" lengthAdjust="spacingAndGlyphs">10</text>
<text x="498.16" y="27.1" class="sb" textLength="8.2" lengthAdjust="spacingAndGlyphs">13</text>
<text x="509.37" y="30.5" class="n" textLength="11.59" lengthAdjust="spacingAndGlyphs">M</text>
<text x="520.65" y="33.5" class="so" textLength="8" lengthAdjust="spacingAndGlyphs">⊙</text>
<text x="455.94" y="50.7" class="mi" textLength="4.74" lengthAdjust="spacingAndGlyphs">r</text>
<text x="461.2" y="52.7" class="sbi" textLength="2.93" lengthAdjust="spacingAndGlyphs">s</text>
<text x="474.53" y="50.5" class="b" textLength="8.76" lengthAdjust="spacingAndGlyphs">=</text>
<text x="490.08" y="50.7" class="b" textLength="16.38" lengthAdjust="spacingAndGlyphs">126</text>
<text x="509.89" y="50.7" class="b" textLength="18.62" lengthAdjust="spacingAndGlyphs">kpc</text>
<path d="M46.59 329.6v-3.2M46.59 168.8v3.2M52.16 329.6v-3.2M52.16 168.8v3.2M56.98 329.6v-3.2M56.98 168.8v3.2M61.24 329.6v-3.2M61.24 168.8v3.2M65.05 329.6v-5.6M65.05 168.8v5.6M90.09 329.6v-3.2M90.09 168.8v3.2M104.74 329.6v-3.2M104.74 168.8v3.2M115.14 329.6v-3.2M115.14 168.8v3.2M123.2 329.6v-5.6M123.2 168.8v5.6M129.79 329.6v-3.2M129.79 168.8v3.2M135.36 329.6v-3.2M135.36 168.8v3.2M140.18 329.6v-3.2M140.18 168.8v3.2M144.44 329.6v-3.2M144.44 168.8v3.2M148.25 329.6v-5.6M148.25 168.8v5.6M173.29 329.6v-3.2M173.29 168.8v3.2M187.94 329.6v-3.2M187.94 168.8v3.2M198.34 329.6v-3.2M198.34 168.8v3.2M40 326.45h3.4M206.4 326.45h-3.4M40 323.17h3.4M206.4 323.17h-3.4M40 320.33h3.4M206.4 320.33h-3.4M40 317.83h3.4M206.4 317.83h-3.4M40 315.59h6.4M206.4 315.59h-6.4M40 300.86h3.4M206.4 300.86h-3.4M40 292.24h3.4M206.4 292.24h-3.4M40 286.13h3.4M206.4 286.13h-3.4M40 281.39h3.4M206.4 281.39h-3.4M40 277.52h3.4M206.4 277.52h-3.4M40 274.24h3.4M206.4 274.24h-3.4M40 271.4h3.4M206.4 271.4h-3.4M40 268.9h3.4M206.4 268.9h-3.4M40 266.66h6.4M206.4 266.66h-6.4M40 251.93h3.4M206.4 251.93h-3.4M40 243.31h3.4M206.4 243.31h-3.4M40 237.2h3.4M206.4 237.2h-3.4M40 232.46h3.4M206.4 232.46h-3.4M40 228.59h3.4M206.4 228.59h-3.4M40 225.31h3.4M206.4 225.31h-3.4M40 222.47h3.4M206.4 222.47h-3.4M40 219.97h3.4M206.4 219.97h-3.4M40 217.73h6.4M206.4 217.73h-6.4M40 203h3.4M206.4 203h-3.4M40 194.38h3.4M206.4 194.38h-3.4M40 188.27h3.4M206.4 188.27h-3.4M40 183.53h3.4M206.4 183.53h-3.4M40 179.66h3.4M206.4 179.66h-3.4M40 176.38h3.4M206.4 176.38h-3.4M40 173.54h3.4M206.4 173.54h-3.4M40 171.04h3.4M206.4 171.04h-3.4" stroke="#000" stroke-width="1" fill="none"/>
<rect x="40" y="168.8" width="166.4" height="160.8" stroke="#000" stroke-width="1.25" fill="none"/>
<text x="91.03" y="191.4" class="mi" textLength="10.97" lengthAdjust="spacingAndGlyphs">M</text>
<text x="102.9" y="191.7" class="sb" textLength="8.64" lengthAdjust="spacingAndGlyphs">vir</text>
<text x="117.64" y="191.2" class="b" textLength="9.85" lengthAdjust="spacingAndGlyphs">=</text>
<text x="133.62" y="191.4" class="b" textLength="5.2" lengthAdjust="spacingAndGlyphs">1</text>
<text x="142.6" y="191.1" class="b" textLength="9.12" lengthAdjust="spacingAndGlyphs">×</text>
<text x="153.78" y="191.4" class="b" textLength="12.28" lengthAdjust="spacingAndGlyphs">10</text>
<text x="165.36" y="188" class="sb" textLength="8.2" lengthAdjust="spacingAndGlyphs">13</text>
<text x="176.57" y="191.4" class="n" textLength="11.59" lengthAdjust="spacingAndGlyphs">M</text>
<text x="187.85" y="194.4" class="so" textLength="8" lengthAdjust="spacingAndGlyphs">⊙</text>
<text x="123.14" y="211.6" class="mi" textLength="4.74" lengthAdjust="spacingAndGlyphs">r</text>
<text x="128.4" y="213.6" class="sbi" textLength="2.93" lengthAdjust="spacingAndGlyphs">s</text>
<text x="141.73" y="211.4" class="b" textLength="8.76" lengthAdjust="spacingAndGlyphs">=</text>
<text x="157.84" y="211.6" class="b" textLength="10.59" lengthAdjust="spacingAndGlyphs">67</text>
<text x="171.86" y="211.6" class="b" textLength="18.62" lengthAdjust="spacingAndGlyphs">kpc</text>
<path d="M212.99 329.6v-3.2M212.99 168.8v3.2M218.56 329.6v-3.2M218.56 168.8v3.2M223.38 329.6v-3.2M223.38 168.8v3.2M227.64 329.6v-3.2M227.64 168.8v3.2M231.45 329.6v-5.6M231.45 168.8v5.6M256.49 329.6v-3.2M256.49 168.8v3.2M271.14 329.6v-3.2M271.14 168.8v3.2M281.54 329.6v-3.2M281.54 168.8v3.2M289.6 329.6v-5.6M289.6 168.8v5.6M296.19 329.6v-3.2M296.19 168.8v3.2M301.76 329.6v-3.2M301.76 168.8v3.2M306.58 329.6v-3.2M306.58 168.8v3.2M310.84 329.6v-3.2M310.84 168.8v3.2M314.65 329.6v-5.6M314.65 168.8v5.6M339.69 329.6v-3.2M339.69 168.8v3.2M354.34 329.6v-3.2M354.34 168.8v3.2M364.74 329.6v-3.2M364.74 168.8v3.2M206.4 326.45h3.4M372.8 326.45h-3.4M206.4 323.17h3.4M372.8 323.17h-3.4M206.4 320.33h3.4M372.8 320.33h-3.4M206.4 317.83h3.4M372.8 317.83h-3.4M206.4 315.59h6.4M372.8 315.59h-6.4M206.4 300.86h3.4M372.8 300.86h-3.4M206.4 292.24h3.4M372.8 292.24h-3.4M206.4 286.13h3.4M372.8 286.13h-3.4M206.4 281.39h3.4M372.8 281.39h-3.4M206.4 277.52h3.4M372.8 277.52h-3.4M206.4 274.24h3.4M372.8 274.24h-3.4M206.4 271.4h3.4M372.8 271.4h-3.4M206.4 268.9h3.4M372.8 268.9h-3.4M206.4 266.66h6.4M372.8 266.66h-6.4M206.4 251.93h3.4M372.8 251.93h-3.4M206.4 243.31h3.4M372.8 243.31h-3.4M206.4 237.2h3.4M372.8 237.2h-3.4M206.4 232.46h3.4M372.8 232.46h-3.4M206.4 228.59h3.4M372.8 228.59h-3.4M206.4 225.31h3.4M372.8 225.31h-3.4M206.4 222.47h3.4M372.8 222.47h-3.4M206.4 219.97h3.4M372.8 219.97h-3.4M206.4 217.73h6.4M372.8 217.73h-6.4M206.4 203h3.4M372.8 203h-3.4M206.4 194.38h3.4M372.8 194.38h-3.4M206.4 188.27h3.4M372.8 188.27h-3.4M206.4 183.53h3.4M372.8 183.53h-3.4M206.4 179.66h3.4M372.8 179.66h-3.4M206.4 176.38h3.4M372.8 176.38h-3.4M206.4 173.54h3.4M372.8 173.54h-3.4M206.4 171.04h3.4M372.8 171.04h-3.4" stroke="#000" stroke-width="1" fill="none"/>
<rect x="206.4" y="168.8" width="166.4" height="160.8" stroke="#000" stroke-width="1.25" fill="none"/>
<text x="257.43" y="191.4" class="mi" textLength="10.97" lengthAdjust="spacingAndGlyphs">M</text>
<text x="269.3" y="191.7" class="sb" textLength="8.64" lengthAdjust="spacingAndGlyphs">vir</text>
<text x="284.04" y="191.2" class="b" textLength="9.85" lengthAdjust="spacingAndGlyphs">=</text>
<text x="300.02" y="191.4" class="b" textLength="5.2" lengthAdjust="spacingAndGlyphs">1</text>
<text x="309" y="191.1" class="b" textLength="9.12" lengthAdjust="spacingAndGlyphs">×</text>
<text x="320.18" y="191.4" class="b" textLength="12.28" lengthAdjust="spacingAndGlyphs">10</text>
<text x="331.76" y="188" class="sb" textLength="8.2" lengthAdjust="spacingAndGlyphs">12</text>
<text x="342.97" y="191.4" class="n" textLength="11.59" lengthAdjust="spacingAndGlyphs">M</text>
<text x="354.25" y="194.4" class="so" textLength="8" lengthAdjust="spacingAndGlyphs">⊙</text>
<text x="289.54" y="211.6" class="mi" textLength="4.74" lengthAdjust="spacingAndGlyphs">r</text>
<text x="294.8" y="213.6" class="sbi" textLength="2.93" lengthAdjust="spacingAndGlyphs">s</text>
<text x="308.13" y="211.4" class="b" textLength="8.76" lengthAdjust="spacingAndGlyphs">=</text>
<text x="324.09" y="211.6" class="b" textLength="10.88" lengthAdjust="spacingAndGlyphs">20</text>
<text x="338.26" y="211.6" class="b" textLength="18.62" lengthAdjust="spacingAndGlyphs">kpc</text>
<path d="M379.39 329.6v-3.2M379.39 168.8v3.2M384.96 329.6v-3.2M384.96 168.8v3.2M389.78 329.6v-3.2M389.78 168.8v3.2M394.04 329.6v-3.2M394.04 168.8v3.2M397.85 329.6v-5.6M397.85 168.8v5.6M422.89 329.6v-3.2M422.89 168.8v3.2M437.54 329.6v-3.2M437.54 168.8v3.2M447.94 329.6v-3.2M447.94 168.8v3.2M456 329.6v-5.6M456 168.8v5.6M462.59 329.6v-3.2M462.59 168.8v3.2M468.16 329.6v-3.2M468.16 168.8v3.2M472.98 329.6v-3.2M472.98 168.8v3.2M477.24 329.6v-3.2M477.24 168.8v3.2M481.05 329.6v-5.6M481.05 168.8v5.6M506.09 329.6v-3.2M506.09 168.8v3.2M520.74 329.6v-3.2M520.74 168.8v3.2M531.14 329.6v-3.2M531.14 168.8v3.2M372.8 326.45h3.4M539.2 326.45h-3.4M372.8 323.17h3.4M539.2 323.17h-3.4M372.8 320.33h3.4M539.2 320.33h-3.4M372.8 317.83h3.4M539.2 317.83h-3.4M372.8 315.59h6.4M539.2 315.59h-6.4M372.8 300.86h3.4M539.2 300.86h-3.4M372.8 292.24h3.4M539.2 292.24h-3.4M372.8 286.13h3.4M539.2 286.13h-3.4M372.8 281.39h3.4M539.2 281.39h-3.4M372.8 277.52h3.4M539.2 277.52h-3.4M372.8 274.24h3.4M539.2 274.24h-3.4M372.8 271.4h3.4M539.2 271.4h-3.4M372.8 268.9h3.4M539.2 268.9h-3.4M372.8 266.66h6.4M539.2 266.66h-6.4M372.8 251.93h3.4M539.2 251.93h-3.4M372.8 243.31h3.4M539.2 243.31h-3.4M372.8 237.2h3.4M539.2 237.2h-3.4M372.8 232.46h3.4M539.2 232.46h-3.4M372.8 228.59h3.4M539.2 228.59h-3.4M372.8 225.31h3.4M539.2 225.31h-3.4M372.8 222.47h3.4M539.2 222.47h-3.4M372.8 219.97h3.4M539.2 219.97h-3.4M372.8 217.73h6.4M539.2 217.73h-6.4M372.8 203h3.4M539.2 203h-3.4M372.8 194.38h3.4M539.2 194.38h-3.4M372.8 188.27h3.4M539.2 188.27h-3.4M372.8 183.53h3.4M539.2 183.53h-3.4M372.8 179.66h3.4M539.2 179.66h-3.4M372.8 176.38h3.4M539.2 176.38h-3.4M372.8 173.54h3.4M539.2 173.54h-3.4M372.8 171.04h3.4M539.2 171.04h-3.4" stroke="#000" stroke-width="1" fill="none"/>
<rect x="372.8" y="168.8" width="166.4" height="160.8" stroke="#000" stroke-width="1.25" fill="none"/>
<text x="423.83" y="191.4" class="mi" textLength="10.97" lengthAdjust="spacingAndGlyphs">M</text>
<text x="435.7" y="191.7" class="sb" textLength="8.64" lengthAdjust="spacingAndGlyphs">vir</text>
<text x="450.44" y="191.2" class="b" textLength="9.85" lengthAdjust="spacingAndGlyphs">=</text>
<text x="466.13" y="191.4" class="b" textLength="6.24" lengthAdjust="spacingAndGlyphs">5</text>
<text x="475.4" y="191.1" class="b" textLength="9.12" lengthAdjust="spacingAndGlyphs">×</text>
<text x="486.58" y="191.4" class="b" textLength="12.28" lengthAdjust="spacingAndGlyphs">10</text>
<text x="498.11" y="188" class="sb" textLength="8.33" lengthAdjust="spacingAndGlyphs">11</text>
<text x="509.37" y="191.4" class="n" textLength="11.59" lengthAdjust="spacingAndGlyphs">M</text>
<text x="520.65" y="194.4" class="so" textLength="8" lengthAdjust="spacingAndGlyphs">⊙</text>
<text x="455.94" y="211.6" class="mi" textLength="4.74" lengthAdjust="spacingAndGlyphs">r</text>
<text x="461.2" y="213.6" class="sbi" textLength="2.93" lengthAdjust="spacingAndGlyphs">s</text>
<text x="474.53" y="211.4" class="b" textLength="8.76" lengthAdjust="spacingAndGlyphs">=</text>
<text x="490.05" y="211.6" class="b" textLength="11.34" lengthAdjust="spacingAndGlyphs">19</text>
<text x="504.66" y="211.6" class="b" textLength="18.62" lengthAdjust="spacingAndGlyphs">kpc</text>
<circle cx="53" cy="130.6" r="2.0" fill="#000"/>
<circle cx="67.5" cy="130.6" r="2.0" fill="#000"/>
<polygon points="53,140.79 55.25,144.84 50.75,144.84" fill="#108a3a" stroke="#0c5e2a" stroke-width="0.5"/>
<polygon points="67.5,140.79 69.75,144.84 65.25,144.84" fill="#108a3a" stroke="#0c5e2a" stroke-width="0.5"/>
<polygon points="53,152.6 53.79,154.51 55.85,154.67 54.28,156.02 54.76,158.03 53,156.95 51.24,158.03 51.72,156.02 50.15,154.67 52.21,154.51" fill="#1c3fc0" stroke="#1a2f86" stroke-width="0.5"/>
<polygon points="67.5,152.6 68.29,154.51 70.35,154.67 68.78,156.02 69.26,158.03 67.5,156.95 65.74,158.03 66.22,156.02 64.65,154.67 66.71,154.51" fill="#1c3fc0" stroke="#1a2f86" stroke-width="0.5"/>
<text x="78.58" y="133.9" class="lg" textLength="24.15" lengthAdjust="spacingAndGlyphs">CDM</text>
<text x="78.64" y="144.8" class="lg" textLength="23.63" lengthAdjust="spacingAndGlyphs">SIDM</text>
<text x="102.23" y="146.7" class="lgs" textLength="12.92" lengthAdjust="spacingAndGlyphs">0.1</text>
<text x="78.64" y="157" class="lg" textLength="23.63" lengthAdjust="spacingAndGlyphs">SIDM</text>
<text x="102.23" y="159.3" class="lgs" textLength="4.25" lengthAdjust="spacingAndGlyphs">1</text>
<text x="22.63" y="12.6" class="tm" textLength="8.46" lengthAdjust="spacingAndGlyphs">−</text>
<text x="32.18" y="11.8" class="tl" textLength="4.8" lengthAdjust="spacingAndGlyphs">1</text>
<text x="22.63" y="61.53" class="tm" textLength="8.46" lengthAdjust="spacingAndGlyphs">−</text>
<text x="31.55" y="60.23" class="tl" textLength="6" lengthAdjust="spacingAndGlyphs">2</text>
<text x="22.63" y="110.46" class="tm" textLength="8.46" lengthAdjust="spacingAndGlyphs">−</text>
<text x="31.56" y="109.16" class="tl" textLength="5.83" lengthAdjust="spacingAndGlyphs">3</text>
<text x="22.63" y="159.39" class="tm" textLength="8.46" lengthAdjust="spacingAndGlyphs">−</text>
<text x="31.87" y="158.09" class="tl" textLength="5.37" lengthAdjust="spacingAndGlyphs">4</text>
<text x="22.63" y="173.5" class="tm" textLength="8.46" lengthAdjust="spacingAndGlyphs">−</text>
<text x="32.18" y="172.7" class="tl" textLength="4.8" lengthAdjust="spacingAndGlyphs">1</text>
<text x="22.63" y="222.43" class="tm" textLength="8.46" lengthAdjust="spacingAndGlyphs">−</text>
<text x="31.55" y="221.13" class="tl" textLength="6" lengthAdjust="spacingAndGlyphs">2</text>
<text x="22.63" y="271.36" class="tm" textLength="8.46" lengthAdjust="spacingAndGlyphs">−</text>
<text x="31.56" y="270.06" class="tl" textLength="5.83" lengthAdjust="spacingAndGlyphs">3</text>
<text x="22.63" y="320.29" class="tm" textLength="8.46" lengthAdjust="spacingAndGlyphs">−</text>
<text x="31.87" y="318.99" class="tl" textLength="5.37" lengthAdjust="spacingAndGlyphs">4</text>
<text x="57.31" y="337.5" class="tl" textLength="14.57" lengthAdjust="spacingAndGlyphs">0.1</text>
<text x="115.39" y="337.5" class="tl" textLength="15.21" lengthAdjust="spacingAndGlyphs">0.5</text>
<text x="145.23" y="337.5" class="tl" textLength="4.8" lengthAdjust="spacingAndGlyphs">1</text>
<text x="203.59" y="337.5" class="tl" textLength="5.53" lengthAdjust="spacingAndGlyphs">5</text>
<text x="113.6" y="347.5" class="xr" textLength="3.98" lengthAdjust="spacingAndGlyphs">r</text>
<text x="117.87" y="350.3" class="xsl" textLength="5.18" lengthAdjust="spacingAndGlyphs">/</text>
<text x="123.33" y="347.5" class="xi" textLength="5.05" lengthAdjust="spacingAndGlyphs">r</text>
<text x="128.8" y="349.3" class="xs" textLength="4.13" lengthAdjust="spacingAndGlyphs">s</text>
<text x="223.71" y="337.5" class="tl" textLength="14.57" lengthAdjust="spacingAndGlyphs">0.1</text>
<text x="281.79" y="337.5" class="tl" textLength="15.21" lengthAdjust="spacingAndGlyphs">0.5</text>
<text x="311.63" y="337.5" class="tl" textLength="4.8" lengthAdjust="spacingAndGlyphs">1</text>
<text x="369.99" y="337.5" class="tl" textLength="5.53" lengthAdjust="spacingAndGlyphs">5</text>
<text x="280" y="347.5" class="xr" textLength="3.98" lengthAdjust="spacingAndGlyphs">r</text>
<text x="284.27" y="350.3" class="xsl" textLength="5.18" lengthAdjust="spacingAndGlyphs">/</text>
<text x="289.73" y="347.5" class="xi" textLength="5.05" lengthAdjust="spacingAndGlyphs">r</text>
<text x="295.2" y="349.3" class="xs" textLength="4.13" lengthAdjust="spacingAndGlyphs">s</text>
<text x="390.11" y="337.5" class="tl" textLength="14.57" lengthAdjust="spacingAndGlyphs">0.1</text>
<text x="448.19" y="337.5" class="tl" textLength="15.21" lengthAdjust="spacingAndGlyphs">0.5</text>
<text x="478.03" y="337.5" class="tl" textLength="4.8" lengthAdjust="spacingAndGlyphs">1</text>
<text x="536.39" y="337.5" class="tl" textLength="5.53" lengthAdjust="spacingAndGlyphs">5</text>
<text x="446.4" y="347.5" class="xr" textLength="3.98" lengthAdjust="spacingAndGlyphs">r</text>
<text x="450.67" y="350.3" class="xsl" textLength="5.18" lengthAdjust="spacingAndGlyphs">/</text>
<text x="456.13" y="347.5" class="xi" textLength="5.05" lengthAdjust="spacingAndGlyphs">r</text>
<text x="461.6" y="349.3" class="xs" textLength="4.13" lengthAdjust="spacingAndGlyphs">s</text>
<text transform="translate(18.3 88.9) rotate(-90)" text-anchor="middle" class="yl" textLength="106.7" lengthAdjust="spacingAndGlyphs">log Density [M<tspan class="ys" dy="1.6">⊙</tspan><tspan dy="-1.6">/pc</tspan><tspan class="ys" dy="-3.8">3</tspan><tspan dy="3.8">]</tspan></text>
<text transform="translate(18.3 249.8) rotate(-90)" text-anchor="middle" class="yl" textLength="106.7" lengthAdjust="spacingAndGlyphs">log Density [M<tspan class="ys" dy="1.6">⊙</tspan><tspan dy="-1.6">/pc</tspan><tspan class="ys" dy="-3.8">3</tspan><tspan dy="3.8">]</tspan></text>
</svg>
</body></html>
